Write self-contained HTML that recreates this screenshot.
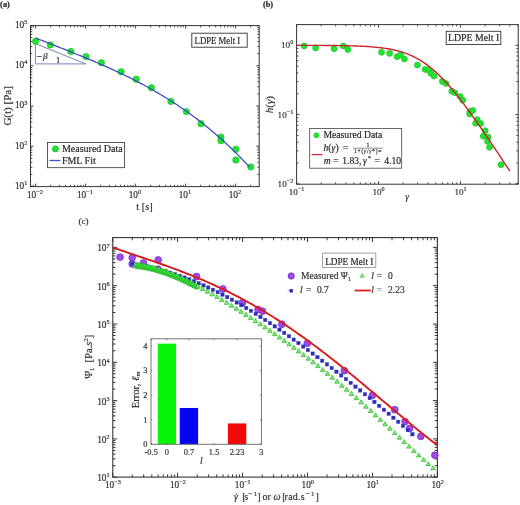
<!DOCTYPE html>
<html><head><meta charset="utf-8"><style>
html,body{margin:0;padding:0;background:#fff;}
svg{display:block;filter:blur(0.3px);}
svg text{font-family:'Liberation Serif', 'DejaVu Serif', serif;stroke:#383838;stroke-width:0.2px;}
</style></head><body>
<svg width="520" height="505" viewBox="0 0 520 505">
<rect width="520" height="505" fill="#fff"/>
<g id="pa">
<rect x="30.5" y="25.6" width="228.7" height="161" fill="none" stroke="#363636" stroke-width="1"/>
<line x1="30.75" y1="186.6" x2="30.75" y2="184.8" stroke="#363636" stroke-width="0.9" />
<line x1="30.75" y1="25.6" x2="30.75" y2="27.4" stroke="#363636" stroke-width="0.9" />
<line x1="33.31" y1="186.6" x2="33.31" y2="184.8" stroke="#363636" stroke-width="0.9" />
<line x1="33.31" y1="25.6" x2="33.31" y2="27.4" stroke="#363636" stroke-width="0.9" />
<line x1="35.6" y1="186.6" x2="35.6" y2="183.6" stroke="#363636" stroke-width="0.9" />
<line x1="35.6" y1="25.6" x2="35.6" y2="28.6" stroke="#363636" stroke-width="0.9" />
<line x1="50.65" y1="186.6" x2="50.65" y2="184.8" stroke="#363636" stroke-width="0.9" />
<line x1="50.65" y1="25.6" x2="50.65" y2="27.4" stroke="#363636" stroke-width="0.9" />
<line x1="59.46" y1="186.6" x2="59.46" y2="184.8" stroke="#363636" stroke-width="0.9" />
<line x1="59.46" y1="25.6" x2="59.46" y2="27.4" stroke="#363636" stroke-width="0.9" />
<line x1="65.7" y1="186.6" x2="65.7" y2="184.8" stroke="#363636" stroke-width="0.9" />
<line x1="65.7" y1="25.6" x2="65.7" y2="27.4" stroke="#363636" stroke-width="0.9" />
<line x1="70.55" y1="186.6" x2="70.55" y2="184.8" stroke="#363636" stroke-width="0.9" />
<line x1="70.55" y1="25.6" x2="70.55" y2="27.4" stroke="#363636" stroke-width="0.9" />
<line x1="74.51" y1="186.6" x2="74.51" y2="184.8" stroke="#363636" stroke-width="0.9" />
<line x1="74.51" y1="25.6" x2="74.51" y2="27.4" stroke="#363636" stroke-width="0.9" />
<line x1="77.85" y1="186.6" x2="77.85" y2="184.8" stroke="#363636" stroke-width="0.9" />
<line x1="77.85" y1="25.6" x2="77.85" y2="27.4" stroke="#363636" stroke-width="0.9" />
<line x1="80.75" y1="186.6" x2="80.75" y2="184.8" stroke="#363636" stroke-width="0.9" />
<line x1="80.75" y1="25.6" x2="80.75" y2="27.4" stroke="#363636" stroke-width="0.9" />
<line x1="83.31" y1="186.6" x2="83.31" y2="184.8" stroke="#363636" stroke-width="0.9" />
<line x1="83.31" y1="25.6" x2="83.31" y2="27.4" stroke="#363636" stroke-width="0.9" />
<line x1="85.6" y1="186.6" x2="85.6" y2="183.6" stroke="#363636" stroke-width="0.9" />
<line x1="85.6" y1="25.6" x2="85.6" y2="28.6" stroke="#363636" stroke-width="0.9" />
<line x1="100.65" y1="186.6" x2="100.65" y2="184.8" stroke="#363636" stroke-width="0.9" />
<line x1="100.65" y1="25.6" x2="100.65" y2="27.4" stroke="#363636" stroke-width="0.9" />
<line x1="109.46" y1="186.6" x2="109.46" y2="184.8" stroke="#363636" stroke-width="0.9" />
<line x1="109.46" y1="25.6" x2="109.46" y2="27.4" stroke="#363636" stroke-width="0.9" />
<line x1="115.7" y1="186.6" x2="115.7" y2="184.8" stroke="#363636" stroke-width="0.9" />
<line x1="115.7" y1="25.6" x2="115.7" y2="27.4" stroke="#363636" stroke-width="0.9" />
<line x1="120.55" y1="186.6" x2="120.55" y2="184.8" stroke="#363636" stroke-width="0.9" />
<line x1="120.55" y1="25.6" x2="120.55" y2="27.4" stroke="#363636" stroke-width="0.9" />
<line x1="124.51" y1="186.6" x2="124.51" y2="184.8" stroke="#363636" stroke-width="0.9" />
<line x1="124.51" y1="25.6" x2="124.51" y2="27.4" stroke="#363636" stroke-width="0.9" />
<line x1="127.85" y1="186.6" x2="127.85" y2="184.8" stroke="#363636" stroke-width="0.9" />
<line x1="127.85" y1="25.6" x2="127.85" y2="27.4" stroke="#363636" stroke-width="0.9" />
<line x1="130.75" y1="186.6" x2="130.75" y2="184.8" stroke="#363636" stroke-width="0.9" />
<line x1="130.75" y1="25.6" x2="130.75" y2="27.4" stroke="#363636" stroke-width="0.9" />
<line x1="133.31" y1="186.6" x2="133.31" y2="184.8" stroke="#363636" stroke-width="0.9" />
<line x1="133.31" y1="25.6" x2="133.31" y2="27.4" stroke="#363636" stroke-width="0.9" />
<line x1="135.6" y1="186.6" x2="135.6" y2="183.6" stroke="#363636" stroke-width="0.9" />
<line x1="135.6" y1="25.6" x2="135.6" y2="28.6" stroke="#363636" stroke-width="0.9" />
<line x1="150.65" y1="186.6" x2="150.65" y2="184.8" stroke="#363636" stroke-width="0.9" />
<line x1="150.65" y1="25.6" x2="150.65" y2="27.4" stroke="#363636" stroke-width="0.9" />
<line x1="159.46" y1="186.6" x2="159.46" y2="184.8" stroke="#363636" stroke-width="0.9" />
<line x1="159.46" y1="25.6" x2="159.46" y2="27.4" stroke="#363636" stroke-width="0.9" />
<line x1="165.7" y1="186.6" x2="165.7" y2="184.8" stroke="#363636" stroke-width="0.9" />
<line x1="165.7" y1="25.6" x2="165.7" y2="27.4" stroke="#363636" stroke-width="0.9" />
<line x1="170.55" y1="186.6" x2="170.55" y2="184.8" stroke="#363636" stroke-width="0.9" />
<line x1="170.55" y1="25.6" x2="170.55" y2="27.4" stroke="#363636" stroke-width="0.9" />
<line x1="174.51" y1="186.6" x2="174.51" y2="184.8" stroke="#363636" stroke-width="0.9" />
<line x1="174.51" y1="25.6" x2="174.51" y2="27.4" stroke="#363636" stroke-width="0.9" />
<line x1="177.85" y1="186.6" x2="177.85" y2="184.8" stroke="#363636" stroke-width="0.9" />
<line x1="177.85" y1="25.6" x2="177.85" y2="27.4" stroke="#363636" stroke-width="0.9" />
<line x1="180.75" y1="186.6" x2="180.75" y2="184.8" stroke="#363636" stroke-width="0.9" />
<line x1="180.75" y1="25.6" x2="180.75" y2="27.4" stroke="#363636" stroke-width="0.9" />
<line x1="183.31" y1="186.6" x2="183.31" y2="184.8" stroke="#363636" stroke-width="0.9" />
<line x1="183.31" y1="25.6" x2="183.31" y2="27.4" stroke="#363636" stroke-width="0.9" />
<line x1="185.6" y1="186.6" x2="185.6" y2="183.6" stroke="#363636" stroke-width="0.9" />
<line x1="185.6" y1="25.6" x2="185.6" y2="28.6" stroke="#363636" stroke-width="0.9" />
<line x1="200.65" y1="186.6" x2="200.65" y2="184.8" stroke="#363636" stroke-width="0.9" />
<line x1="200.65" y1="25.6" x2="200.65" y2="27.4" stroke="#363636" stroke-width="0.9" />
<line x1="209.46" y1="186.6" x2="209.46" y2="184.8" stroke="#363636" stroke-width="0.9" />
<line x1="209.46" y1="25.6" x2="209.46" y2="27.4" stroke="#363636" stroke-width="0.9" />
<line x1="215.7" y1="186.6" x2="215.7" y2="184.8" stroke="#363636" stroke-width="0.9" />
<line x1="215.7" y1="25.6" x2="215.7" y2="27.4" stroke="#363636" stroke-width="0.9" />
<line x1="220.55" y1="186.6" x2="220.55" y2="184.8" stroke="#363636" stroke-width="0.9" />
<line x1="220.55" y1="25.6" x2="220.55" y2="27.4" stroke="#363636" stroke-width="0.9" />
<line x1="224.51" y1="186.6" x2="224.51" y2="184.8" stroke="#363636" stroke-width="0.9" />
<line x1="224.51" y1="25.6" x2="224.51" y2="27.4" stroke="#363636" stroke-width="0.9" />
<line x1="227.85" y1="186.6" x2="227.85" y2="184.8" stroke="#363636" stroke-width="0.9" />
<line x1="227.85" y1="25.6" x2="227.85" y2="27.4" stroke="#363636" stroke-width="0.9" />
<line x1="230.75" y1="186.6" x2="230.75" y2="184.8" stroke="#363636" stroke-width="0.9" />
<line x1="230.75" y1="25.6" x2="230.75" y2="27.4" stroke="#363636" stroke-width="0.9" />
<line x1="233.31" y1="186.6" x2="233.31" y2="184.8" stroke="#363636" stroke-width="0.9" />
<line x1="233.31" y1="25.6" x2="233.31" y2="27.4" stroke="#363636" stroke-width="0.9" />
<line x1="235.6" y1="186.6" x2="235.6" y2="183.6" stroke="#363636" stroke-width="0.9" />
<line x1="235.6" y1="25.6" x2="235.6" y2="28.6" stroke="#363636" stroke-width="0.9" />
<line x1="250.65" y1="186.6" x2="250.65" y2="184.8" stroke="#363636" stroke-width="0.9" />
<line x1="250.65" y1="25.6" x2="250.65" y2="27.4" stroke="#363636" stroke-width="0.9" />
<line x1="30.5" y1="186.5" x2="33.5" y2="186.5" stroke="#363636" stroke-width="0.9" />
<line x1="259.2" y1="186.5" x2="256.2" y2="186.5" stroke="#363636" stroke-width="0.9" />
<line x1="30.5" y1="174.38" x2="32.3" y2="174.38" stroke="#363636" stroke-width="0.9" />
<line x1="259.2" y1="174.38" x2="257.4" y2="174.38" stroke="#363636" stroke-width="0.9" />
<line x1="30.5" y1="167.3" x2="32.3" y2="167.3" stroke="#363636" stroke-width="0.9" />
<line x1="259.2" y1="167.3" x2="257.4" y2="167.3" stroke="#363636" stroke-width="0.9" />
<line x1="30.5" y1="162.27" x2="32.3" y2="162.27" stroke="#363636" stroke-width="0.9" />
<line x1="259.2" y1="162.27" x2="257.4" y2="162.27" stroke="#363636" stroke-width="0.9" />
<line x1="30.5" y1="158.37" x2="32.3" y2="158.37" stroke="#363636" stroke-width="0.9" />
<line x1="259.2" y1="158.37" x2="257.4" y2="158.37" stroke="#363636" stroke-width="0.9" />
<line x1="30.5" y1="155.18" x2="32.3" y2="155.18" stroke="#363636" stroke-width="0.9" />
<line x1="259.2" y1="155.18" x2="257.4" y2="155.18" stroke="#363636" stroke-width="0.9" />
<line x1="30.5" y1="152.48" x2="32.3" y2="152.48" stroke="#363636" stroke-width="0.9" />
<line x1="259.2" y1="152.48" x2="257.4" y2="152.48" stroke="#363636" stroke-width="0.9" />
<line x1="30.5" y1="150.15" x2="32.3" y2="150.15" stroke="#363636" stroke-width="0.9" />
<line x1="259.2" y1="150.15" x2="257.4" y2="150.15" stroke="#363636" stroke-width="0.9" />
<line x1="30.5" y1="148.09" x2="32.3" y2="148.09" stroke="#363636" stroke-width="0.9" />
<line x1="259.2" y1="148.09" x2="257.4" y2="148.09" stroke="#363636" stroke-width="0.9" />
<line x1="30.5" y1="146.25" x2="33.5" y2="146.25" stroke="#363636" stroke-width="0.9" />
<line x1="259.2" y1="146.25" x2="256.2" y2="146.25" stroke="#363636" stroke-width="0.9" />
<line x1="30.5" y1="134.13" x2="32.3" y2="134.13" stroke="#363636" stroke-width="0.9" />
<line x1="259.2" y1="134.13" x2="257.4" y2="134.13" stroke="#363636" stroke-width="0.9" />
<line x1="30.5" y1="127.05" x2="32.3" y2="127.05" stroke="#363636" stroke-width="0.9" />
<line x1="259.2" y1="127.05" x2="257.4" y2="127.05" stroke="#363636" stroke-width="0.9" />
<line x1="30.5" y1="122.02" x2="32.3" y2="122.02" stroke="#363636" stroke-width="0.9" />
<line x1="259.2" y1="122.02" x2="257.4" y2="122.02" stroke="#363636" stroke-width="0.9" />
<line x1="30.5" y1="118.12" x2="32.3" y2="118.12" stroke="#363636" stroke-width="0.9" />
<line x1="259.2" y1="118.12" x2="257.4" y2="118.12" stroke="#363636" stroke-width="0.9" />
<line x1="30.5" y1="114.93" x2="32.3" y2="114.93" stroke="#363636" stroke-width="0.9" />
<line x1="259.2" y1="114.93" x2="257.4" y2="114.93" stroke="#363636" stroke-width="0.9" />
<line x1="30.5" y1="112.23" x2="32.3" y2="112.23" stroke="#363636" stroke-width="0.9" />
<line x1="259.2" y1="112.23" x2="257.4" y2="112.23" stroke="#363636" stroke-width="0.9" />
<line x1="30.5" y1="109.9" x2="32.3" y2="109.9" stroke="#363636" stroke-width="0.9" />
<line x1="259.2" y1="109.9" x2="257.4" y2="109.9" stroke="#363636" stroke-width="0.9" />
<line x1="30.5" y1="107.84" x2="32.3" y2="107.84" stroke="#363636" stroke-width="0.9" />
<line x1="259.2" y1="107.84" x2="257.4" y2="107.84" stroke="#363636" stroke-width="0.9" />
<line x1="30.5" y1="106" x2="33.5" y2="106" stroke="#363636" stroke-width="0.9" />
<line x1="259.2" y1="106" x2="256.2" y2="106" stroke="#363636" stroke-width="0.9" />
<line x1="30.5" y1="93.88" x2="32.3" y2="93.88" stroke="#363636" stroke-width="0.9" />
<line x1="259.2" y1="93.88" x2="257.4" y2="93.88" stroke="#363636" stroke-width="0.9" />
<line x1="30.5" y1="86.8" x2="32.3" y2="86.8" stroke="#363636" stroke-width="0.9" />
<line x1="259.2" y1="86.8" x2="257.4" y2="86.8" stroke="#363636" stroke-width="0.9" />
<line x1="30.5" y1="81.77" x2="32.3" y2="81.77" stroke="#363636" stroke-width="0.9" />
<line x1="259.2" y1="81.77" x2="257.4" y2="81.77" stroke="#363636" stroke-width="0.9" />
<line x1="30.5" y1="77.87" x2="32.3" y2="77.87" stroke="#363636" stroke-width="0.9" />
<line x1="259.2" y1="77.87" x2="257.4" y2="77.87" stroke="#363636" stroke-width="0.9" />
<line x1="30.5" y1="74.68" x2="32.3" y2="74.68" stroke="#363636" stroke-width="0.9" />
<line x1="259.2" y1="74.68" x2="257.4" y2="74.68" stroke="#363636" stroke-width="0.9" />
<line x1="30.5" y1="71.98" x2="32.3" y2="71.98" stroke="#363636" stroke-width="0.9" />
<line x1="259.2" y1="71.98" x2="257.4" y2="71.98" stroke="#363636" stroke-width="0.9" />
<line x1="30.5" y1="69.65" x2="32.3" y2="69.65" stroke="#363636" stroke-width="0.9" />
<line x1="259.2" y1="69.65" x2="257.4" y2="69.65" stroke="#363636" stroke-width="0.9" />
<line x1="30.5" y1="67.59" x2="32.3" y2="67.59" stroke="#363636" stroke-width="0.9" />
<line x1="259.2" y1="67.59" x2="257.4" y2="67.59" stroke="#363636" stroke-width="0.9" />
<line x1="30.5" y1="65.75" x2="33.5" y2="65.75" stroke="#363636" stroke-width="0.9" />
<line x1="259.2" y1="65.75" x2="256.2" y2="65.75" stroke="#363636" stroke-width="0.9" />
<line x1="30.5" y1="53.63" x2="32.3" y2="53.63" stroke="#363636" stroke-width="0.9" />
<line x1="259.2" y1="53.63" x2="257.4" y2="53.63" stroke="#363636" stroke-width="0.9" />
<line x1="30.5" y1="46.55" x2="32.3" y2="46.55" stroke="#363636" stroke-width="0.9" />
<line x1="259.2" y1="46.55" x2="257.4" y2="46.55" stroke="#363636" stroke-width="0.9" />
<line x1="30.5" y1="41.52" x2="32.3" y2="41.52" stroke="#363636" stroke-width="0.9" />
<line x1="259.2" y1="41.52" x2="257.4" y2="41.52" stroke="#363636" stroke-width="0.9" />
<line x1="30.5" y1="37.62" x2="32.3" y2="37.62" stroke="#363636" stroke-width="0.9" />
<line x1="259.2" y1="37.62" x2="257.4" y2="37.62" stroke="#363636" stroke-width="0.9" />
<line x1="30.5" y1="34.43" x2="32.3" y2="34.43" stroke="#363636" stroke-width="0.9" />
<line x1="259.2" y1="34.43" x2="257.4" y2="34.43" stroke="#363636" stroke-width="0.9" />
<line x1="30.5" y1="31.73" x2="32.3" y2="31.73" stroke="#363636" stroke-width="0.9" />
<line x1="259.2" y1="31.73" x2="257.4" y2="31.73" stroke="#363636" stroke-width="0.9" />
<line x1="30.5" y1="29.4" x2="32.3" y2="29.4" stroke="#363636" stroke-width="0.9" />
<line x1="259.2" y1="29.4" x2="257.4" y2="29.4" stroke="#363636" stroke-width="0.9" />
<line x1="30.5" y1="27.34" x2="32.3" y2="27.34" stroke="#363636" stroke-width="0.9" />
<line x1="259.2" y1="27.34" x2="257.4" y2="27.34" stroke="#363636" stroke-width="0.9" />
<line x1="30.5" y1="25.5" x2="33.5" y2="25.5" stroke="#363636" stroke-width="0.9" />
<line x1="259.2" y1="25.5" x2="256.2" y2="25.5" stroke="#363636" stroke-width="0.9" />
<text x="34.9" y="198.1" font-size="9.3" text-anchor="middle" fill="#333">10<tspan font-size="6.3" dy="-4">−2</tspan></text>
<text x="84.9" y="198.1" font-size="9.3" text-anchor="middle" fill="#333">10<tspan font-size="6.3" dy="-4">−1</tspan></text>
<text x="134.9" y="198.1" font-size="9.3" text-anchor="middle" fill="#333">10<tspan font-size="6.3" dy="-4">0</tspan></text>
<text x="184.9" y="198.1" font-size="9.3" text-anchor="middle" fill="#333">10<tspan font-size="6.3" dy="-4">1</tspan></text>
<text x="234.9" y="198.1" font-size="9.3" text-anchor="middle" fill="#333">10<tspan font-size="6.3" dy="-4">2</tspan></text>
<text x="27.4" y="188.9" font-size="9.3" text-anchor="end" fill="#333">10<tspan font-size="6.3" dy="-3.8">1</tspan></text>
<text x="27.4" y="148.65" font-size="9.3" text-anchor="end" fill="#333">10<tspan font-size="6.3" dy="-3.8">2</tspan></text>
<text x="27.4" y="108.4" font-size="9.3" text-anchor="end" fill="#333">10<tspan font-size="6.3" dy="-3.8">3</tspan></text>
<text x="27.4" y="68.15" font-size="9.3" text-anchor="end" fill="#333">10<tspan font-size="6.3" dy="-3.8">4</tspan></text>
<text x="27.4" y="27.9" font-size="9.3" text-anchor="end" fill="#333">10<tspan font-size="6.3" dy="-3.8">5</tspan></text>
</g>
<polyline points="35.4,43.6 35.4,63.9 85.8,63.9 35.4,43.6" fill="none" stroke="#6877b8" stroke-width="0.9"/>
<text x="36.5" y="60.2" font-size="10" fill="#333">−</text>
<text x="43.0" y="58.8" font-size="9.2" fill="#333" font-style="italic">β</text>
<text x="55.9" y="63.2" font-size="8.6" text-anchor="start" fill="#333" >1</text>
<circle cx="35.6" cy="41.3" r="3.2" fill="#1fe52f" stroke="#20b82a" stroke-width="0.6"/>
<circle cx="50.4" cy="44.9" r="3.2" fill="#1fe52f" stroke="#20b82a" stroke-width="0.6"/>
<circle cx="70.8" cy="51.4" r="3.2" fill="#1fe52f" stroke="#20b82a" stroke-width="0.6"/>
<circle cx="86" cy="56.6" r="3.2" fill="#1fe52f" stroke="#20b82a" stroke-width="0.6"/>
<circle cx="101.4" cy="62.8" r="3.2" fill="#1fe52f" stroke="#20b82a" stroke-width="0.6"/>
<circle cx="121.1" cy="71.8" r="3.2" fill="#1fe52f" stroke="#20b82a" stroke-width="0.6"/>
<circle cx="136.2" cy="79.3" r="3.2" fill="#1fe52f" stroke="#20b82a" stroke-width="0.6"/>
<circle cx="151.4" cy="87.8" r="3.2" fill="#1fe52f" stroke="#20b82a" stroke-width="0.6"/>
<circle cx="170.9" cy="101.4" r="3.2" fill="#1fe52f" stroke="#20b82a" stroke-width="0.6"/>
<circle cx="186.3" cy="111.6" r="3.2" fill="#1fe52f" stroke="#20b82a" stroke-width="0.6"/>
<circle cx="201" cy="123.7" r="3.2" fill="#1fe52f" stroke="#20b82a" stroke-width="0.6"/>
<circle cx="220.9" cy="137.1" r="3.2" fill="#1fe52f" stroke="#20b82a" stroke-width="0.6"/>
<circle cx="220.9" cy="140.8" r="3.2" fill="#1fe52f" stroke="#20b82a" stroke-width="0.6"/>
<circle cx="235.8" cy="149.3" r="3.2" fill="#1fe52f" stroke="#20b82a" stroke-width="0.6"/>
<circle cx="235.8" cy="160" r="3.2" fill="#1fe52f" stroke="#20b82a" stroke-width="0.6"/>
<circle cx="250.8" cy="167" r="3.2" fill="#1fe52f" stroke="#20b82a" stroke-width="0.6"/>
<polyline points="35.3,37.9 37.1,38.6 38.9,39.31 40.71,40.01 42.51,40.72 44.31,41.42 46.11,42.13 47.91,42.83 49.71,43.54 51.52,44.24 53.32,44.95 55.12,45.65 56.92,46.36 58.72,47.07 60.52,47.78 62.33,48.49 64.13,49.2 65.93,49.92 67.73,50.63 69.53,51.35 71.33,52.07 73.14,52.79 74.94,53.52 76.74,54.25 78.54,54.98 80.34,55.71 82.14,56.45 83.95,57.19 85.75,57.93 87.55,58.68 89.35,59.43 91.15,60.19 92.95,60.95 94.76,61.71 96.56,62.48 98.36,63.26 100.16,64.04 101.96,64.82 103.76,65.62 105.57,66.41 107.37,67.21 109.17,68.02 110.97,68.84 112.77,69.66 114.57,70.49 116.38,71.32 118.18,72.16 119.98,73.01 121.78,73.87 123.58,74.73 125.38,75.61 127.19,76.49 128.99,77.37 130.79,78.27 132.59,79.18 134.39,80.09 136.19,81.01 138,81.95 139.8,82.89 141.6,83.84 143.4,84.8 145.2,85.78 147,86.76 148.81,87.75 150.61,88.75 152.41,89.77 154.21,90.8 156.01,91.83 157.81,92.88 159.62,93.94 161.42,95.02 163.22,96.1 165.02,97.2 166.82,98.31 168.62,99.44 170.43,100.57 172.23,101.72 174.03,102.89 175.83,104.07 177.63,105.26 179.43,106.46 181.24,107.69 183.04,108.92 184.84,110.17 186.64,111.44 188.44,112.72 190.24,114.02 192.05,115.33 193.85,116.66 195.65,118.01 197.45,119.37 199.25,120.75 201.05,122.15 202.86,123.56 204.66,125 206.46,126.45 208.26,127.92 210.06,129.4 211.86,130.91 213.67,132.43 215.47,133.98 217.27,135.54 219.07,137.13 220.87,138.73 222.67,140.35 224.48,142 226.28,143.66 228.08,145.35 229.88,147.05 231.68,148.78 233.48,150.53 235.29,152.3 237.09,154.1 238.89,155.91 240.69,157.75 242.49,159.62 244.29,161.5 246.1,163.41 247.9,165.35 249.7,167.3" fill="none" stroke="#3a4fc2" stroke-width="1.3" stroke-linejoin="round" stroke-linecap="butt" />
<rect x="47.4" y="142.4" width="77.2" height="25.3" fill="#fff" stroke="#333" stroke-width="0.8"/>
<circle cx="55.4" cy="148.9" r="3.1" fill="#1fe52f" stroke="#20b82a" stroke-width="0.6"/>
<text x="61.9" y="151.6" font-size="10" text-anchor="start" fill="#222" >Measured Data</text>
<line x1="49.4" y1="160.5" x2="60.4" y2="160.5" stroke="#3a52c4" stroke-width="1.3" />
<text x="61.9" y="163.5" font-size="10" text-anchor="start" fill="#222" >FML Fit</text>
<rect x="191.8" y="33.2" width="55.4" height="14" fill="#fff" stroke="#333" stroke-width="0.9"/>
<text x="194.6" y="43.6" font-size="9.6" text-anchor="start" fill="#222" textLength="45.6" lengthAdjust="spacingAndGlyphs">LDPE Melt I</text>
<text x="0" y="0" font-size="11" fill="#333" transform="translate(11.0,105.9) rotate(-90)" text-anchor="middle">G(t) [Pa]</text>
<text x="144.5" y="210.3" font-size="10.4" fill="#333" text-anchor="middle">t [<tspan font-style="italic">s</tspan>]</text>
<text x="0.1" y="7.1" font-size="8.4" font-weight="bold" fill="#222">(a)</text>
<rect x="296.6" y="24.6" width="221.6" height="159.6" fill="none" stroke="#363636" stroke-width="1"/>
<line x1="296.5" y1="184.2" x2="296.5" y2="181.2" stroke="#363636" stroke-width="0.9" />
<line x1="296.5" y1="24.6" x2="296.5" y2="27.6" stroke="#363636" stroke-width="0.9" />
<line x1="321.18" y1="184.2" x2="321.18" y2="182.4" stroke="#363636" stroke-width="0.9" />
<line x1="321.18" y1="24.6" x2="321.18" y2="26.4" stroke="#363636" stroke-width="0.9" />
<line x1="335.62" y1="184.2" x2="335.62" y2="182.4" stroke="#363636" stroke-width="0.9" />
<line x1="335.62" y1="24.6" x2="335.62" y2="26.4" stroke="#363636" stroke-width="0.9" />
<line x1="345.87" y1="184.2" x2="345.87" y2="182.4" stroke="#363636" stroke-width="0.9" />
<line x1="345.87" y1="24.6" x2="345.87" y2="26.4" stroke="#363636" stroke-width="0.9" />
<line x1="353.82" y1="184.2" x2="353.82" y2="182.4" stroke="#363636" stroke-width="0.9" />
<line x1="353.82" y1="24.6" x2="353.82" y2="26.4" stroke="#363636" stroke-width="0.9" />
<line x1="360.31" y1="184.2" x2="360.31" y2="182.4" stroke="#363636" stroke-width="0.9" />
<line x1="360.31" y1="24.6" x2="360.31" y2="26.4" stroke="#363636" stroke-width="0.9" />
<line x1="365.8" y1="184.2" x2="365.8" y2="182.4" stroke="#363636" stroke-width="0.9" />
<line x1="365.8" y1="24.6" x2="365.8" y2="26.4" stroke="#363636" stroke-width="0.9" />
<line x1="370.55" y1="184.2" x2="370.55" y2="182.4" stroke="#363636" stroke-width="0.9" />
<line x1="370.55" y1="24.6" x2="370.55" y2="26.4" stroke="#363636" stroke-width="0.9" />
<line x1="374.75" y1="184.2" x2="374.75" y2="182.4" stroke="#363636" stroke-width="0.9" />
<line x1="374.75" y1="24.6" x2="374.75" y2="26.4" stroke="#363636" stroke-width="0.9" />
<line x1="378.5" y1="184.2" x2="378.5" y2="181.2" stroke="#363636" stroke-width="0.9" />
<line x1="378.5" y1="24.6" x2="378.5" y2="27.6" stroke="#363636" stroke-width="0.9" />
<line x1="403.18" y1="184.2" x2="403.18" y2="182.4" stroke="#363636" stroke-width="0.9" />
<line x1="403.18" y1="24.6" x2="403.18" y2="26.4" stroke="#363636" stroke-width="0.9" />
<line x1="417.62" y1="184.2" x2="417.62" y2="182.4" stroke="#363636" stroke-width="0.9" />
<line x1="417.62" y1="24.6" x2="417.62" y2="26.4" stroke="#363636" stroke-width="0.9" />
<line x1="427.87" y1="184.2" x2="427.87" y2="182.4" stroke="#363636" stroke-width="0.9" />
<line x1="427.87" y1="24.6" x2="427.87" y2="26.4" stroke="#363636" stroke-width="0.9" />
<line x1="435.82" y1="184.2" x2="435.82" y2="182.4" stroke="#363636" stroke-width="0.9" />
<line x1="435.82" y1="24.6" x2="435.82" y2="26.4" stroke="#363636" stroke-width="0.9" />
<line x1="442.31" y1="184.2" x2="442.31" y2="182.4" stroke="#363636" stroke-width="0.9" />
<line x1="442.31" y1="24.6" x2="442.31" y2="26.4" stroke="#363636" stroke-width="0.9" />
<line x1="447.8" y1="184.2" x2="447.8" y2="182.4" stroke="#363636" stroke-width="0.9" />
<line x1="447.8" y1="24.6" x2="447.8" y2="26.4" stroke="#363636" stroke-width="0.9" />
<line x1="452.55" y1="184.2" x2="452.55" y2="182.4" stroke="#363636" stroke-width="0.9" />
<line x1="452.55" y1="24.6" x2="452.55" y2="26.4" stroke="#363636" stroke-width="0.9" />
<line x1="456.75" y1="184.2" x2="456.75" y2="182.4" stroke="#363636" stroke-width="0.9" />
<line x1="456.75" y1="24.6" x2="456.75" y2="26.4" stroke="#363636" stroke-width="0.9" />
<line x1="460.5" y1="184.2" x2="460.5" y2="181.2" stroke="#363636" stroke-width="0.9" />
<line x1="460.5" y1="24.6" x2="460.5" y2="27.6" stroke="#363636" stroke-width="0.9" />
<line x1="485.18" y1="184.2" x2="485.18" y2="182.4" stroke="#363636" stroke-width="0.9" />
<line x1="485.18" y1="24.6" x2="485.18" y2="26.4" stroke="#363636" stroke-width="0.9" />
<line x1="499.62" y1="184.2" x2="499.62" y2="182.4" stroke="#363636" stroke-width="0.9" />
<line x1="499.62" y1="24.6" x2="499.62" y2="26.4" stroke="#363636" stroke-width="0.9" />
<line x1="509.87" y1="184.2" x2="509.87" y2="182.4" stroke="#363636" stroke-width="0.9" />
<line x1="509.87" y1="24.6" x2="509.87" y2="26.4" stroke="#363636" stroke-width="0.9" />
<line x1="517.82" y1="184.2" x2="517.82" y2="182.4" stroke="#363636" stroke-width="0.9" />
<line x1="517.82" y1="24.6" x2="517.82" y2="26.4" stroke="#363636" stroke-width="0.9" />
<line x1="296.6" y1="183.9" x2="299.6" y2="183.9" stroke="#363636" stroke-width="0.9" />
<line x1="518.2" y1="183.9" x2="515.2" y2="183.9" stroke="#363636" stroke-width="0.9" />
<line x1="296.6" y1="163.04" x2="298.4" y2="163.04" stroke="#363636" stroke-width="0.9" />
<line x1="518.2" y1="163.04" x2="516.4" y2="163.04" stroke="#363636" stroke-width="0.9" />
<line x1="296.6" y1="150.84" x2="298.4" y2="150.84" stroke="#363636" stroke-width="0.9" />
<line x1="518.2" y1="150.84" x2="516.4" y2="150.84" stroke="#363636" stroke-width="0.9" />
<line x1="296.6" y1="142.18" x2="298.4" y2="142.18" stroke="#363636" stroke-width="0.9" />
<line x1="518.2" y1="142.18" x2="516.4" y2="142.18" stroke="#363636" stroke-width="0.9" />
<line x1="296.6" y1="135.46" x2="298.4" y2="135.46" stroke="#363636" stroke-width="0.9" />
<line x1="518.2" y1="135.46" x2="516.4" y2="135.46" stroke="#363636" stroke-width="0.9" />
<line x1="296.6" y1="129.97" x2="298.4" y2="129.97" stroke="#363636" stroke-width="0.9" />
<line x1="518.2" y1="129.97" x2="516.4" y2="129.97" stroke="#363636" stroke-width="0.9" />
<line x1="296.6" y1="125.33" x2="298.4" y2="125.33" stroke="#363636" stroke-width="0.9" />
<line x1="518.2" y1="125.33" x2="516.4" y2="125.33" stroke="#363636" stroke-width="0.9" />
<line x1="296.6" y1="121.32" x2="298.4" y2="121.32" stroke="#363636" stroke-width="0.9" />
<line x1="518.2" y1="121.32" x2="516.4" y2="121.32" stroke="#363636" stroke-width="0.9" />
<line x1="296.6" y1="117.77" x2="298.4" y2="117.77" stroke="#363636" stroke-width="0.9" />
<line x1="518.2" y1="117.77" x2="516.4" y2="117.77" stroke="#363636" stroke-width="0.9" />
<line x1="296.6" y1="114.6" x2="299.6" y2="114.6" stroke="#363636" stroke-width="0.9" />
<line x1="518.2" y1="114.6" x2="515.2" y2="114.6" stroke="#363636" stroke-width="0.9" />
<line x1="296.6" y1="93.74" x2="298.4" y2="93.74" stroke="#363636" stroke-width="0.9" />
<line x1="518.2" y1="93.74" x2="516.4" y2="93.74" stroke="#363636" stroke-width="0.9" />
<line x1="296.6" y1="81.54" x2="298.4" y2="81.54" stroke="#363636" stroke-width="0.9" />
<line x1="518.2" y1="81.54" x2="516.4" y2="81.54" stroke="#363636" stroke-width="0.9" />
<line x1="296.6" y1="72.88" x2="298.4" y2="72.88" stroke="#363636" stroke-width="0.9" />
<line x1="518.2" y1="72.88" x2="516.4" y2="72.88" stroke="#363636" stroke-width="0.9" />
<line x1="296.6" y1="66.16" x2="298.4" y2="66.16" stroke="#363636" stroke-width="0.9" />
<line x1="518.2" y1="66.16" x2="516.4" y2="66.16" stroke="#363636" stroke-width="0.9" />
<line x1="296.6" y1="60.67" x2="298.4" y2="60.67" stroke="#363636" stroke-width="0.9" />
<line x1="518.2" y1="60.67" x2="516.4" y2="60.67" stroke="#363636" stroke-width="0.9" />
<line x1="296.6" y1="56.03" x2="298.4" y2="56.03" stroke="#363636" stroke-width="0.9" />
<line x1="518.2" y1="56.03" x2="516.4" y2="56.03" stroke="#363636" stroke-width="0.9" />
<line x1="296.6" y1="52.02" x2="298.4" y2="52.02" stroke="#363636" stroke-width="0.9" />
<line x1="518.2" y1="52.02" x2="516.4" y2="52.02" stroke="#363636" stroke-width="0.9" />
<line x1="296.6" y1="48.47" x2="298.4" y2="48.47" stroke="#363636" stroke-width="0.9" />
<line x1="518.2" y1="48.47" x2="516.4" y2="48.47" stroke="#363636" stroke-width="0.9" />
<line x1="296.6" y1="45.3" x2="299.6" y2="45.3" stroke="#363636" stroke-width="0.9" />
<line x1="518.2" y1="45.3" x2="515.2" y2="45.3" stroke="#363636" stroke-width="0.9" />
<text x="296.5" y="195" font-size="9.1" text-anchor="middle" fill="#333">10<tspan font-size="6.1" dy="-4">−1</tspan></text>
<text x="378.5" y="195" font-size="9.1" text-anchor="middle" fill="#333">10<tspan font-size="6.1" dy="-4">0</tspan></text>
<text x="460.5" y="195" font-size="9.1" text-anchor="middle" fill="#333">10<tspan font-size="6.1" dy="-4">1</tspan></text>
<text x="293.2" y="186.8" font-size="9.1" text-anchor="end" fill="#333">10<tspan font-size="6.1" dy="-3.8">−2</tspan></text>
<text x="293.2" y="117.5" font-size="9.1" text-anchor="end" fill="#333">10<tspan font-size="6.1" dy="-3.8">−1</tspan></text>
<text x="293.2" y="48.2" font-size="9.1" text-anchor="end" fill="#333">10<tspan font-size="6.1" dy="-3.8">0</tspan></text>
<circle cx="304.1" cy="46" r="3" fill="#1fe52f" stroke="#20b82a" stroke-width="0.6"/>
<circle cx="315.6" cy="47.9" r="3" fill="#1fe52f" stroke="#20b82a" stroke-width="0.6"/>
<circle cx="334.1" cy="48.8" r="3" fill="#1fe52f" stroke="#20b82a" stroke-width="0.6"/>
<circle cx="343.3" cy="46" r="3" fill="#1fe52f" stroke="#20b82a" stroke-width="0.6"/>
<circle cx="347.9" cy="49.6" r="3" fill="#1fe52f" stroke="#20b82a" stroke-width="0.6"/>
<circle cx="381.5" cy="52.3" r="3" fill="#1fe52f" stroke="#20b82a" stroke-width="0.6"/>
<circle cx="389.6" cy="53.4" r="3" fill="#1fe52f" stroke="#20b82a" stroke-width="0.6"/>
<circle cx="397.1" cy="56.7" r="3" fill="#1fe52f" stroke="#20b82a" stroke-width="0.6"/>
<circle cx="400.6" cy="55" r="3" fill="#1fe52f" stroke="#20b82a" stroke-width="0.6"/>
<circle cx="404.4" cy="59" r="3" fill="#1fe52f" stroke="#20b82a" stroke-width="0.6"/>
<circle cx="417.4" cy="65.1" r="3" fill="#1fe52f" stroke="#20b82a" stroke-width="0.6"/>
<circle cx="425.1" cy="69.4" r="3" fill="#1fe52f" stroke="#20b82a" stroke-width="0.6"/>
<circle cx="428.7" cy="69.9" r="3" fill="#1fe52f" stroke="#20b82a" stroke-width="0.6"/>
<circle cx="431" cy="73.4" r="3" fill="#1fe52f" stroke="#20b82a" stroke-width="0.6"/>
<circle cx="434" cy="76.1" r="3" fill="#1fe52f" stroke="#20b82a" stroke-width="0.6"/>
<circle cx="442.3" cy="81.4" r="3" fill="#1fe52f" stroke="#20b82a" stroke-width="0.6"/>
<circle cx="445.9" cy="83.5" r="3" fill="#1fe52f" stroke="#20b82a" stroke-width="0.6"/>
<circle cx="451.8" cy="91.2" r="3" fill="#1fe52f" stroke="#20b82a" stroke-width="0.6"/>
<circle cx="454.8" cy="92.8" r="3" fill="#1fe52f" stroke="#20b82a" stroke-width="0.6"/>
<circle cx="460.2" cy="96.6" r="3" fill="#1fe52f" stroke="#20b82a" stroke-width="0.6"/>
<circle cx="462.7" cy="100.3" r="3" fill="#1fe52f" stroke="#20b82a" stroke-width="0.6"/>
<circle cx="469.8" cy="111.5" r="3" fill="#1fe52f" stroke="#20b82a" stroke-width="0.6"/>
<circle cx="472.8" cy="110.5" r="3" fill="#1fe52f" stroke="#20b82a" stroke-width="0.6"/>
<circle cx="469.6" cy="114" r="3" fill="#1fe52f" stroke="#20b82a" stroke-width="0.6"/>
<circle cx="477.2" cy="119.6" r="3" fill="#1fe52f" stroke="#20b82a" stroke-width="0.6"/>
<circle cx="475.6" cy="123.2" r="3" fill="#1fe52f" stroke="#20b82a" stroke-width="0.6"/>
<circle cx="480.7" cy="123.5" r="3" fill="#1fe52f" stroke="#20b82a" stroke-width="0.6"/>
<circle cx="485.1" cy="130.7" r="3" fill="#1fe52f" stroke="#20b82a" stroke-width="0.6"/>
<circle cx="483.2" cy="136.2" r="3" fill="#1fe52f" stroke="#20b82a" stroke-width="0.6"/>
<circle cx="488" cy="137" r="3" fill="#1fe52f" stroke="#20b82a" stroke-width="0.6"/>
<circle cx="487.5" cy="141.3" r="3" fill="#1fe52f" stroke="#20b82a" stroke-width="0.6"/>
<circle cx="489.5" cy="147.3" r="3" fill="#1fe52f" stroke="#20b82a" stroke-width="0.6"/>
<circle cx="501" cy="164.7" r="3" fill="#1fe52f" stroke="#20b82a" stroke-width="0.6"/>
<polyline points="296.5,45.33 297.84,45.34 299.18,45.34 300.53,45.34 301.87,45.34 303.21,45.35 304.55,45.35 305.89,45.35 307.24,45.36 308.58,45.36 309.92,45.37 311.26,45.37 312.6,45.38 313.95,45.38 315.29,45.39 316.63,45.39 317.97,45.4 319.31,45.41 320.65,45.42 322,45.42 323.34,45.43 324.68,45.44 326.02,45.45 327.36,45.46 328.71,45.48 330.05,45.49 331.39,45.5 332.73,45.52 334.07,45.53 335.42,45.55 336.76,45.57 338.1,45.58 339.44,45.6 340.78,45.63 342.13,45.65 343.47,45.67 344.81,45.7 346.15,45.73 347.49,45.76 348.84,45.79 350.18,45.83 351.52,45.86 352.86,45.9 354.2,45.95 355.55,45.99 356.89,46.04 358.23,46.09 359.57,46.15 360.91,46.21 362.26,46.27 363.6,46.34 364.94,46.41 366.28,46.49 367.62,46.57 368.96,46.66 370.31,46.76 371.65,46.86 372.99,46.97 374.33,47.08 375.67,47.21 377.02,47.34 378.36,47.48 379.7,47.63 381.04,47.79 382.38,47.96 383.73,48.14 385.07,48.33 386.41,48.54 387.75,48.75 389.09,48.99 390.44,49.23 391.78,49.5 393.12,49.77 394.46,50.07 395.8,50.38 397.15,50.71 398.49,51.07 399.83,51.44 401.17,51.83 402.51,52.25 403.86,52.69 405.2,53.15 406.54,53.64 407.88,54.16 409.22,54.7 410.57,55.27 411.91,55.87 413.25,56.5 414.59,57.16 415.93,57.85 417.27,58.58 418.62,59.34 419.96,60.13 421.3,60.95 422.64,61.81 423.98,62.7 425.33,63.63 426.67,64.6 428.01,65.6 429.35,66.63 430.69,67.7 432.04,68.81 433.38,69.95 434.72,71.13 436.06,72.35 437.4,73.59 438.75,74.87 440.09,76.19 441.43,77.54 442.77,78.92 444.11,80.33 445.46,81.77 446.8,83.25 448.14,84.75 449.48,86.28 450.82,87.83 452.17,89.42 453.51,91.03 454.85,92.66 456.19,94.32 457.53,96 458.88,97.7 460.22,99.42 461.56,101.16 462.9,102.92 464.24,104.7 465.58,106.49 466.93,108.3 468.27,110.13 469.61,111.97 470.95,113.83 472.29,115.7 473.64,117.58 474.98,119.47 476.32,121.38 477.66,123.29 479,125.22 480.35,127.15 481.69,129.09 483.03,131.05 484.37,133 485.71,134.97 487.06,136.94 488.4,138.92 489.74,140.91 491.08,142.9 492.42,144.9 493.77,146.9 495.11,148.91 496.45,150.92 497.79,152.93 499.13,154.95 500.48,156.98 501.82,159 503.16,161.03 504.5,163.06 505.84,165.1 507.19,167.14 508.53,169.18 509.87,171.22" fill="none" stroke="#c8262e" stroke-width="1.4" stroke-linejoin="round" stroke-linecap="butt" />
<rect x="309.7" y="128.4" width="92" height="39.8" fill="#fff" stroke="#444" stroke-width="0.8"/>
<circle cx="316.4" cy="135.3" r="2.6" fill="#1fe52f" stroke="#20b82a" stroke-width="0.5"/>
<text x="323.4" y="138.1" font-size="9.7" text-anchor="start" fill="#222" >Measured Data</text>
<line x1="311.7" y1="154.6" x2="322.4" y2="154.6" stroke="#d42a3a" stroke-width="1.3" />
<text x="323.5" y="150.8" font-size="9.7" fill="#222"><tspan font-style="italic">h</tspan>(<tspan font-style="italic">γ</tspan>)</text>
<text x="342.7" y="150.8" font-size="9.7" fill="#222">=</text>
<line x1="353.1" y1="148.2" x2="382.9" y2="148.2" stroke="#333" stroke-width="0.55" />
<text x="368" y="146.9" font-size="5.8" text-anchor="middle" fill="#222" >1</text>
<text x="354" y="153.1" font-size="5.4" fill="#333" style="letter-spacing:0.82px">1+(<tspan font-style="italic">γ</tspan>/<tspan font-style="italic">γ</tspan>*)<tspan font-style="italic" dy="-1.5" font-size="4">m</tspan></text>
<text x="323.8" y="163.7" font-size="9.6" fill="#222" font-style="italic">m</text>
<text x="333.2" y="163.7" font-size="9.6" fill="#222">=</text>
<text x="342.2" y="163.7" font-size="9.6" fill="#222">1.83,</text>
<text x="363.0" y="163.7" font-size="9.6" fill="#222" font-style="italic">γ</text>
<text x="368.0" y="160.0" font-size="6.2" fill="#222">*</text>
<text x="374.4" y="163.7" font-size="9.6" fill="#222">=</text>
<text x="384.2" y="163.7" font-size="9.6" fill="#222">4.10</text>
<rect x="446.2" y="31.3" width="54.6" height="13.2" fill="#fff" stroke="#333" stroke-width="0.9"/>
<text x="448" y="40.8" font-size="9.6" text-anchor="start" fill="#222" textLength="51.2" lengthAdjust="spacingAndGlyphs">LDPE Melt I</text>
<text x="0" y="0" font-size="11" fill="#333" transform="translate(273.1,104.6) rotate(-90)" text-anchor="middle"><tspan font-style="italic">h</tspan>(<tspan font-style="italic">γ</tspan>)</text>
<text x="407" y="199.5" font-size="9.4" fill="#333" text-anchor="middle" font-style="italic">γ</text>
<text x="262.9" y="6.5" font-size="8.4" font-weight="bold" fill="#222">(b)</text>
<rect x="112.8" y="237.6" width="324.6" height="239.5" fill="none" stroke="#363636" stroke-width="1.1"/>
<line x1="112.7" y1="477.1" x2="112.7" y2="472.7" stroke="#363636" stroke-width="1.0" />
<line x1="112.7" y1="237.6" x2="112.7" y2="242" stroke="#363636" stroke-width="1.0" />
<line x1="132.25" y1="477.1" x2="132.25" y2="474.4" stroke="#363636" stroke-width="1.0" />
<line x1="132.25" y1="237.6" x2="132.25" y2="240.3" stroke="#363636" stroke-width="1.0" />
<line x1="143.68" y1="477.1" x2="143.68" y2="474.4" stroke="#363636" stroke-width="1.0" />
<line x1="143.68" y1="237.6" x2="143.68" y2="240.3" stroke="#363636" stroke-width="1.0" />
<line x1="151.8" y1="477.1" x2="151.8" y2="474.4" stroke="#363636" stroke-width="1.0" />
<line x1="151.8" y1="237.6" x2="151.8" y2="240.3" stroke="#363636" stroke-width="1.0" />
<line x1="158.09" y1="477.1" x2="158.09" y2="474.4" stroke="#363636" stroke-width="1.0" />
<line x1="158.09" y1="237.6" x2="158.09" y2="240.3" stroke="#363636" stroke-width="1.0" />
<line x1="163.23" y1="477.1" x2="163.23" y2="474.4" stroke="#363636" stroke-width="1.0" />
<line x1="163.23" y1="237.6" x2="163.23" y2="240.3" stroke="#363636" stroke-width="1.0" />
<line x1="167.58" y1="477.1" x2="167.58" y2="474.4" stroke="#363636" stroke-width="1.0" />
<line x1="167.58" y1="237.6" x2="167.58" y2="240.3" stroke="#363636" stroke-width="1.0" />
<line x1="171.35" y1="477.1" x2="171.35" y2="474.4" stroke="#363636" stroke-width="1.0" />
<line x1="171.35" y1="237.6" x2="171.35" y2="240.3" stroke="#363636" stroke-width="1.0" />
<line x1="174.67" y1="477.1" x2="174.67" y2="474.4" stroke="#363636" stroke-width="1.0" />
<line x1="174.67" y1="237.6" x2="174.67" y2="240.3" stroke="#363636" stroke-width="1.0" />
<line x1="177.64" y1="477.1" x2="177.64" y2="472.7" stroke="#363636" stroke-width="1.0" />
<line x1="177.64" y1="237.6" x2="177.64" y2="242" stroke="#363636" stroke-width="1.0" />
<line x1="197.19" y1="477.1" x2="197.19" y2="474.4" stroke="#363636" stroke-width="1.0" />
<line x1="197.19" y1="237.6" x2="197.19" y2="240.3" stroke="#363636" stroke-width="1.0" />
<line x1="208.62" y1="477.1" x2="208.62" y2="474.4" stroke="#363636" stroke-width="1.0" />
<line x1="208.62" y1="237.6" x2="208.62" y2="240.3" stroke="#363636" stroke-width="1.0" />
<line x1="216.74" y1="477.1" x2="216.74" y2="474.4" stroke="#363636" stroke-width="1.0" />
<line x1="216.74" y1="237.6" x2="216.74" y2="240.3" stroke="#363636" stroke-width="1.0" />
<line x1="223.03" y1="477.1" x2="223.03" y2="474.4" stroke="#363636" stroke-width="1.0" />
<line x1="223.03" y1="237.6" x2="223.03" y2="240.3" stroke="#363636" stroke-width="1.0" />
<line x1="228.17" y1="477.1" x2="228.17" y2="474.4" stroke="#363636" stroke-width="1.0" />
<line x1="228.17" y1="237.6" x2="228.17" y2="240.3" stroke="#363636" stroke-width="1.0" />
<line x1="232.52" y1="477.1" x2="232.52" y2="474.4" stroke="#363636" stroke-width="1.0" />
<line x1="232.52" y1="237.6" x2="232.52" y2="240.3" stroke="#363636" stroke-width="1.0" />
<line x1="236.29" y1="477.1" x2="236.29" y2="474.4" stroke="#363636" stroke-width="1.0" />
<line x1="236.29" y1="237.6" x2="236.29" y2="240.3" stroke="#363636" stroke-width="1.0" />
<line x1="239.61" y1="477.1" x2="239.61" y2="474.4" stroke="#363636" stroke-width="1.0" />
<line x1="239.61" y1="237.6" x2="239.61" y2="240.3" stroke="#363636" stroke-width="1.0" />
<line x1="242.58" y1="477.1" x2="242.58" y2="472.7" stroke="#363636" stroke-width="1.0" />
<line x1="242.58" y1="237.6" x2="242.58" y2="242" stroke="#363636" stroke-width="1.0" />
<line x1="262.13" y1="477.1" x2="262.13" y2="474.4" stroke="#363636" stroke-width="1.0" />
<line x1="262.13" y1="237.6" x2="262.13" y2="240.3" stroke="#363636" stroke-width="1.0" />
<line x1="273.56" y1="477.1" x2="273.56" y2="474.4" stroke="#363636" stroke-width="1.0" />
<line x1="273.56" y1="237.6" x2="273.56" y2="240.3" stroke="#363636" stroke-width="1.0" />
<line x1="281.68" y1="477.1" x2="281.68" y2="474.4" stroke="#363636" stroke-width="1.0" />
<line x1="281.68" y1="237.6" x2="281.68" y2="240.3" stroke="#363636" stroke-width="1.0" />
<line x1="287.97" y1="477.1" x2="287.97" y2="474.4" stroke="#363636" stroke-width="1.0" />
<line x1="287.97" y1="237.6" x2="287.97" y2="240.3" stroke="#363636" stroke-width="1.0" />
<line x1="293.11" y1="477.1" x2="293.11" y2="474.4" stroke="#363636" stroke-width="1.0" />
<line x1="293.11" y1="237.6" x2="293.11" y2="240.3" stroke="#363636" stroke-width="1.0" />
<line x1="297.46" y1="477.1" x2="297.46" y2="474.4" stroke="#363636" stroke-width="1.0" />
<line x1="297.46" y1="237.6" x2="297.46" y2="240.3" stroke="#363636" stroke-width="1.0" />
<line x1="301.23" y1="477.1" x2="301.23" y2="474.4" stroke="#363636" stroke-width="1.0" />
<line x1="301.23" y1="237.6" x2="301.23" y2="240.3" stroke="#363636" stroke-width="1.0" />
<line x1="304.55" y1="477.1" x2="304.55" y2="474.4" stroke="#363636" stroke-width="1.0" />
<line x1="304.55" y1="237.6" x2="304.55" y2="240.3" stroke="#363636" stroke-width="1.0" />
<line x1="307.52" y1="477.1" x2="307.52" y2="472.7" stroke="#363636" stroke-width="1.0" />
<line x1="307.52" y1="237.6" x2="307.52" y2="242" stroke="#363636" stroke-width="1.0" />
<line x1="327.07" y1="477.1" x2="327.07" y2="474.4" stroke="#363636" stroke-width="1.0" />
<line x1="327.07" y1="237.6" x2="327.07" y2="240.3" stroke="#363636" stroke-width="1.0" />
<line x1="338.5" y1="477.1" x2="338.5" y2="474.4" stroke="#363636" stroke-width="1.0" />
<line x1="338.5" y1="237.6" x2="338.5" y2="240.3" stroke="#363636" stroke-width="1.0" />
<line x1="346.62" y1="477.1" x2="346.62" y2="474.4" stroke="#363636" stroke-width="1.0" />
<line x1="346.62" y1="237.6" x2="346.62" y2="240.3" stroke="#363636" stroke-width="1.0" />
<line x1="352.91" y1="477.1" x2="352.91" y2="474.4" stroke="#363636" stroke-width="1.0" />
<line x1="352.91" y1="237.6" x2="352.91" y2="240.3" stroke="#363636" stroke-width="1.0" />
<line x1="358.05" y1="477.1" x2="358.05" y2="474.4" stroke="#363636" stroke-width="1.0" />
<line x1="358.05" y1="237.6" x2="358.05" y2="240.3" stroke="#363636" stroke-width="1.0" />
<line x1="362.4" y1="477.1" x2="362.4" y2="474.4" stroke="#363636" stroke-width="1.0" />
<line x1="362.4" y1="237.6" x2="362.4" y2="240.3" stroke="#363636" stroke-width="1.0" />
<line x1="366.17" y1="477.1" x2="366.17" y2="474.4" stroke="#363636" stroke-width="1.0" />
<line x1="366.17" y1="237.6" x2="366.17" y2="240.3" stroke="#363636" stroke-width="1.0" />
<line x1="369.49" y1="477.1" x2="369.49" y2="474.4" stroke="#363636" stroke-width="1.0" />
<line x1="369.49" y1="237.6" x2="369.49" y2="240.3" stroke="#363636" stroke-width="1.0" />
<line x1="372.46" y1="477.1" x2="372.46" y2="472.7" stroke="#363636" stroke-width="1.0" />
<line x1="372.46" y1="237.6" x2="372.46" y2="242" stroke="#363636" stroke-width="1.0" />
<line x1="392.01" y1="477.1" x2="392.01" y2="474.4" stroke="#363636" stroke-width="1.0" />
<line x1="392.01" y1="237.6" x2="392.01" y2="240.3" stroke="#363636" stroke-width="1.0" />
<line x1="403.44" y1="477.1" x2="403.44" y2="474.4" stroke="#363636" stroke-width="1.0" />
<line x1="403.44" y1="237.6" x2="403.44" y2="240.3" stroke="#363636" stroke-width="1.0" />
<line x1="411.56" y1="477.1" x2="411.56" y2="474.4" stroke="#363636" stroke-width="1.0" />
<line x1="411.56" y1="237.6" x2="411.56" y2="240.3" stroke="#363636" stroke-width="1.0" />
<line x1="417.85" y1="477.1" x2="417.85" y2="474.4" stroke="#363636" stroke-width="1.0" />
<line x1="417.85" y1="237.6" x2="417.85" y2="240.3" stroke="#363636" stroke-width="1.0" />
<line x1="422.99" y1="477.1" x2="422.99" y2="474.4" stroke="#363636" stroke-width="1.0" />
<line x1="422.99" y1="237.6" x2="422.99" y2="240.3" stroke="#363636" stroke-width="1.0" />
<line x1="427.34" y1="477.1" x2="427.34" y2="474.4" stroke="#363636" stroke-width="1.0" />
<line x1="427.34" y1="237.6" x2="427.34" y2="240.3" stroke="#363636" stroke-width="1.0" />
<line x1="431.11" y1="477.1" x2="431.11" y2="474.4" stroke="#363636" stroke-width="1.0" />
<line x1="431.11" y1="237.6" x2="431.11" y2="240.3" stroke="#363636" stroke-width="1.0" />
<line x1="434.43" y1="477.1" x2="434.43" y2="474.4" stroke="#363636" stroke-width="1.0" />
<line x1="434.43" y1="237.6" x2="434.43" y2="240.3" stroke="#363636" stroke-width="1.0" />
<line x1="437.4" y1="477.1" x2="437.4" y2="472.7" stroke="#363636" stroke-width="1.0" />
<line x1="437.4" y1="237.6" x2="437.4" y2="242" stroke="#363636" stroke-width="1.0" />
<line x1="112.8" y1="477.2" x2="117.2" y2="477.2" stroke="#363636" stroke-width="1.0" />
<line x1="437.4" y1="477.2" x2="433" y2="477.2" stroke="#363636" stroke-width="1.0" />
<line x1="112.8" y1="465.67" x2="115.5" y2="465.67" stroke="#363636" stroke-width="1.0" />
<line x1="437.4" y1="465.67" x2="434.7" y2="465.67" stroke="#363636" stroke-width="1.0" />
<line x1="112.8" y1="458.93" x2="115.5" y2="458.93" stroke="#363636" stroke-width="1.0" />
<line x1="437.4" y1="458.93" x2="434.7" y2="458.93" stroke="#363636" stroke-width="1.0" />
<line x1="112.8" y1="454.14" x2="115.5" y2="454.14" stroke="#363636" stroke-width="1.0" />
<line x1="437.4" y1="454.14" x2="434.7" y2="454.14" stroke="#363636" stroke-width="1.0" />
<line x1="112.8" y1="450.43" x2="115.5" y2="450.43" stroke="#363636" stroke-width="1.0" />
<line x1="437.4" y1="450.43" x2="434.7" y2="450.43" stroke="#363636" stroke-width="1.0" />
<line x1="112.8" y1="447.4" x2="115.5" y2="447.4" stroke="#363636" stroke-width="1.0" />
<line x1="437.4" y1="447.4" x2="434.7" y2="447.4" stroke="#363636" stroke-width="1.0" />
<line x1="112.8" y1="444.83" x2="115.5" y2="444.83" stroke="#363636" stroke-width="1.0" />
<line x1="437.4" y1="444.83" x2="434.7" y2="444.83" stroke="#363636" stroke-width="1.0" />
<line x1="112.8" y1="442.61" x2="115.5" y2="442.61" stroke="#363636" stroke-width="1.0" />
<line x1="437.4" y1="442.61" x2="434.7" y2="442.61" stroke="#363636" stroke-width="1.0" />
<line x1="112.8" y1="440.65" x2="115.5" y2="440.65" stroke="#363636" stroke-width="1.0" />
<line x1="437.4" y1="440.65" x2="434.7" y2="440.65" stroke="#363636" stroke-width="1.0" />
<line x1="112.8" y1="438.9" x2="117.2" y2="438.9" stroke="#363636" stroke-width="1.0" />
<line x1="437.4" y1="438.9" x2="433" y2="438.9" stroke="#363636" stroke-width="1.0" />
<line x1="112.8" y1="427.37" x2="115.5" y2="427.37" stroke="#363636" stroke-width="1.0" />
<line x1="437.4" y1="427.37" x2="434.7" y2="427.37" stroke="#363636" stroke-width="1.0" />
<line x1="112.8" y1="420.63" x2="115.5" y2="420.63" stroke="#363636" stroke-width="1.0" />
<line x1="437.4" y1="420.63" x2="434.7" y2="420.63" stroke="#363636" stroke-width="1.0" />
<line x1="112.8" y1="415.84" x2="115.5" y2="415.84" stroke="#363636" stroke-width="1.0" />
<line x1="437.4" y1="415.84" x2="434.7" y2="415.84" stroke="#363636" stroke-width="1.0" />
<line x1="112.8" y1="412.13" x2="115.5" y2="412.13" stroke="#363636" stroke-width="1.0" />
<line x1="437.4" y1="412.13" x2="434.7" y2="412.13" stroke="#363636" stroke-width="1.0" />
<line x1="112.8" y1="409.1" x2="115.5" y2="409.1" stroke="#363636" stroke-width="1.0" />
<line x1="437.4" y1="409.1" x2="434.7" y2="409.1" stroke="#363636" stroke-width="1.0" />
<line x1="112.8" y1="406.53" x2="115.5" y2="406.53" stroke="#363636" stroke-width="1.0" />
<line x1="437.4" y1="406.53" x2="434.7" y2="406.53" stroke="#363636" stroke-width="1.0" />
<line x1="112.8" y1="404.31" x2="115.5" y2="404.31" stroke="#363636" stroke-width="1.0" />
<line x1="437.4" y1="404.31" x2="434.7" y2="404.31" stroke="#363636" stroke-width="1.0" />
<line x1="112.8" y1="402.35" x2="115.5" y2="402.35" stroke="#363636" stroke-width="1.0" />
<line x1="437.4" y1="402.35" x2="434.7" y2="402.35" stroke="#363636" stroke-width="1.0" />
<line x1="112.8" y1="400.6" x2="117.2" y2="400.6" stroke="#363636" stroke-width="1.0" />
<line x1="437.4" y1="400.6" x2="433" y2="400.6" stroke="#363636" stroke-width="1.0" />
<line x1="112.8" y1="389.07" x2="115.5" y2="389.07" stroke="#363636" stroke-width="1.0" />
<line x1="437.4" y1="389.07" x2="434.7" y2="389.07" stroke="#363636" stroke-width="1.0" />
<line x1="112.8" y1="382.33" x2="115.5" y2="382.33" stroke="#363636" stroke-width="1.0" />
<line x1="437.4" y1="382.33" x2="434.7" y2="382.33" stroke="#363636" stroke-width="1.0" />
<line x1="112.8" y1="377.54" x2="115.5" y2="377.54" stroke="#363636" stroke-width="1.0" />
<line x1="437.4" y1="377.54" x2="434.7" y2="377.54" stroke="#363636" stroke-width="1.0" />
<line x1="112.8" y1="373.83" x2="115.5" y2="373.83" stroke="#363636" stroke-width="1.0" />
<line x1="437.4" y1="373.83" x2="434.7" y2="373.83" stroke="#363636" stroke-width="1.0" />
<line x1="112.8" y1="370.8" x2="115.5" y2="370.8" stroke="#363636" stroke-width="1.0" />
<line x1="437.4" y1="370.8" x2="434.7" y2="370.8" stroke="#363636" stroke-width="1.0" />
<line x1="112.8" y1="368.23" x2="115.5" y2="368.23" stroke="#363636" stroke-width="1.0" />
<line x1="437.4" y1="368.23" x2="434.7" y2="368.23" stroke="#363636" stroke-width="1.0" />
<line x1="112.8" y1="366.01" x2="115.5" y2="366.01" stroke="#363636" stroke-width="1.0" />
<line x1="437.4" y1="366.01" x2="434.7" y2="366.01" stroke="#363636" stroke-width="1.0" />
<line x1="112.8" y1="364.05" x2="115.5" y2="364.05" stroke="#363636" stroke-width="1.0" />
<line x1="437.4" y1="364.05" x2="434.7" y2="364.05" stroke="#363636" stroke-width="1.0" />
<line x1="112.8" y1="362.3" x2="117.2" y2="362.3" stroke="#363636" stroke-width="1.0" />
<line x1="437.4" y1="362.3" x2="433" y2="362.3" stroke="#363636" stroke-width="1.0" />
<line x1="112.8" y1="350.77" x2="115.5" y2="350.77" stroke="#363636" stroke-width="1.0" />
<line x1="437.4" y1="350.77" x2="434.7" y2="350.77" stroke="#363636" stroke-width="1.0" />
<line x1="112.8" y1="344.03" x2="115.5" y2="344.03" stroke="#363636" stroke-width="1.0" />
<line x1="437.4" y1="344.03" x2="434.7" y2="344.03" stroke="#363636" stroke-width="1.0" />
<line x1="112.8" y1="339.24" x2="115.5" y2="339.24" stroke="#363636" stroke-width="1.0" />
<line x1="437.4" y1="339.24" x2="434.7" y2="339.24" stroke="#363636" stroke-width="1.0" />
<line x1="112.8" y1="335.53" x2="115.5" y2="335.53" stroke="#363636" stroke-width="1.0" />
<line x1="437.4" y1="335.53" x2="434.7" y2="335.53" stroke="#363636" stroke-width="1.0" />
<line x1="112.8" y1="332.5" x2="115.5" y2="332.5" stroke="#363636" stroke-width="1.0" />
<line x1="437.4" y1="332.5" x2="434.7" y2="332.5" stroke="#363636" stroke-width="1.0" />
<line x1="112.8" y1="329.93" x2="115.5" y2="329.93" stroke="#363636" stroke-width="1.0" />
<line x1="437.4" y1="329.93" x2="434.7" y2="329.93" stroke="#363636" stroke-width="1.0" />
<line x1="112.8" y1="327.71" x2="115.5" y2="327.71" stroke="#363636" stroke-width="1.0" />
<line x1="437.4" y1="327.71" x2="434.7" y2="327.71" stroke="#363636" stroke-width="1.0" />
<line x1="112.8" y1="325.75" x2="115.5" y2="325.75" stroke="#363636" stroke-width="1.0" />
<line x1="437.4" y1="325.75" x2="434.7" y2="325.75" stroke="#363636" stroke-width="1.0" />
<line x1="112.8" y1="324" x2="117.2" y2="324" stroke="#363636" stroke-width="1.0" />
<line x1="437.4" y1="324" x2="433" y2="324" stroke="#363636" stroke-width="1.0" />
<line x1="112.8" y1="312.47" x2="115.5" y2="312.47" stroke="#363636" stroke-width="1.0" />
<line x1="437.4" y1="312.47" x2="434.7" y2="312.47" stroke="#363636" stroke-width="1.0" />
<line x1="112.8" y1="305.73" x2="115.5" y2="305.73" stroke="#363636" stroke-width="1.0" />
<line x1="437.4" y1="305.73" x2="434.7" y2="305.73" stroke="#363636" stroke-width="1.0" />
<line x1="112.8" y1="300.94" x2="115.5" y2="300.94" stroke="#363636" stroke-width="1.0" />
<line x1="437.4" y1="300.94" x2="434.7" y2="300.94" stroke="#363636" stroke-width="1.0" />
<line x1="112.8" y1="297.23" x2="115.5" y2="297.23" stroke="#363636" stroke-width="1.0" />
<line x1="437.4" y1="297.23" x2="434.7" y2="297.23" stroke="#363636" stroke-width="1.0" />
<line x1="112.8" y1="294.2" x2="115.5" y2="294.2" stroke="#363636" stroke-width="1.0" />
<line x1="437.4" y1="294.2" x2="434.7" y2="294.2" stroke="#363636" stroke-width="1.0" />
<line x1="112.8" y1="291.63" x2="115.5" y2="291.63" stroke="#363636" stroke-width="1.0" />
<line x1="437.4" y1="291.63" x2="434.7" y2="291.63" stroke="#363636" stroke-width="1.0" />
<line x1="112.8" y1="289.41" x2="115.5" y2="289.41" stroke="#363636" stroke-width="1.0" />
<line x1="437.4" y1="289.41" x2="434.7" y2="289.41" stroke="#363636" stroke-width="1.0" />
<line x1="112.8" y1="287.45" x2="115.5" y2="287.45" stroke="#363636" stroke-width="1.0" />
<line x1="437.4" y1="287.45" x2="434.7" y2="287.45" stroke="#363636" stroke-width="1.0" />
<line x1="112.8" y1="285.7" x2="117.2" y2="285.7" stroke="#363636" stroke-width="1.0" />
<line x1="437.4" y1="285.7" x2="433" y2="285.7" stroke="#363636" stroke-width="1.0" />
<line x1="112.8" y1="274.17" x2="115.5" y2="274.17" stroke="#363636" stroke-width="1.0" />
<line x1="437.4" y1="274.17" x2="434.7" y2="274.17" stroke="#363636" stroke-width="1.0" />
<line x1="112.8" y1="267.43" x2="115.5" y2="267.43" stroke="#363636" stroke-width="1.0" />
<line x1="437.4" y1="267.43" x2="434.7" y2="267.43" stroke="#363636" stroke-width="1.0" />
<line x1="112.8" y1="262.64" x2="115.5" y2="262.64" stroke="#363636" stroke-width="1.0" />
<line x1="437.4" y1="262.64" x2="434.7" y2="262.64" stroke="#363636" stroke-width="1.0" />
<line x1="112.8" y1="258.93" x2="115.5" y2="258.93" stroke="#363636" stroke-width="1.0" />
<line x1="437.4" y1="258.93" x2="434.7" y2="258.93" stroke="#363636" stroke-width="1.0" />
<line x1="112.8" y1="255.9" x2="115.5" y2="255.9" stroke="#363636" stroke-width="1.0" />
<line x1="437.4" y1="255.9" x2="434.7" y2="255.9" stroke="#363636" stroke-width="1.0" />
<line x1="112.8" y1="253.33" x2="115.5" y2="253.33" stroke="#363636" stroke-width="1.0" />
<line x1="437.4" y1="253.33" x2="434.7" y2="253.33" stroke="#363636" stroke-width="1.0" />
<line x1="112.8" y1="251.11" x2="115.5" y2="251.11" stroke="#363636" stroke-width="1.0" />
<line x1="437.4" y1="251.11" x2="434.7" y2="251.11" stroke="#363636" stroke-width="1.0" />
<line x1="112.8" y1="249.15" x2="115.5" y2="249.15" stroke="#363636" stroke-width="1.0" />
<line x1="437.4" y1="249.15" x2="434.7" y2="249.15" stroke="#363636" stroke-width="1.0" />
<line x1="112.8" y1="247.4" x2="117.2" y2="247.4" stroke="#363636" stroke-width="1.0" />
<line x1="437.4" y1="247.4" x2="433" y2="247.4" stroke="#363636" stroke-width="1.0" />
<text x="112.9" y="488.4" font-size="9.3" text-anchor="middle" fill="#333">10<tspan font-size="6.2" dy="-4">−3</tspan></text>
<text x="177.84" y="488.4" font-size="9.3" text-anchor="middle" fill="#333">10<tspan font-size="6.2" dy="-4">−2</tspan></text>
<text x="242.78" y="488.4" font-size="9.3" text-anchor="middle" fill="#333">10<tspan font-size="6.2" dy="-4">−1</tspan></text>
<text x="307.72" y="488.4" font-size="9.3" text-anchor="middle" fill="#333">10<tspan font-size="6.2" dy="-4">0</tspan></text>
<text x="372.66" y="488.4" font-size="9.3" text-anchor="middle" fill="#333">10<tspan font-size="6.2" dy="-4">1</tspan></text>
<text x="437.6" y="488.4" font-size="9.3" text-anchor="middle" fill="#333">10<tspan font-size="6.2" dy="-4">2</tspan></text>
<text x="109.6" y="481.2" font-size="9.3" text-anchor="end" fill="#333">10<tspan font-size="6.2" dy="-3.8">1</tspan></text>
<text x="109.6" y="442.9" font-size="9.3" text-anchor="end" fill="#333">10<tspan font-size="6.2" dy="-3.8">2</tspan></text>
<text x="109.6" y="404.6" font-size="9.3" text-anchor="end" fill="#333">10<tspan font-size="6.2" dy="-3.8">3</tspan></text>
<text x="109.6" y="366.3" font-size="9.3" text-anchor="end" fill="#333">10<tspan font-size="6.2" dy="-3.8">4</tspan></text>
<text x="109.6" y="328" font-size="9.3" text-anchor="end" fill="#333">10<tspan font-size="6.2" dy="-3.8">5</tspan></text>
<text x="109.6" y="289.7" font-size="9.3" text-anchor="end" fill="#333">10<tspan font-size="6.2" dy="-3.8">6</tspan></text>
<text x="109.6" y="251.4" font-size="9.3" text-anchor="end" fill="#333">10<tspan font-size="6.2" dy="-3.8">7</tspan></text>
<circle cx="120.1" cy="257.1" r="3.4" fill="#a248f0" stroke="#6430b4" stroke-width="0.7"/>
<circle cx="132.2" cy="257.6" r="3.4" fill="#a248f0" stroke="#6430b4" stroke-width="0.7"/>
<circle cx="132.2" cy="264" r="3.4" fill="#a248f0" stroke="#6430b4" stroke-width="0.7"/>
<circle cx="143.4" cy="263" r="3.4" fill="#a248f0" stroke="#6430b4" stroke-width="0.7"/>
<circle cx="158.2" cy="259.9" r="3.4" fill="#a248f0" stroke="#6430b4" stroke-width="0.7"/>
<circle cx="157.8" cy="269.2" r="3.4" fill="#a248f0" stroke="#6430b4" stroke-width="0.7"/>
<circle cx="196.6" cy="276.5" r="3.4" fill="#a248f0" stroke="#6430b4" stroke-width="0.7"/>
<circle cx="222.9" cy="289" r="3.4" fill="#a248f0" stroke="#6430b4" stroke-width="0.7"/>
<circle cx="242.5" cy="302.7" r="3.4" fill="#a248f0" stroke="#6430b4" stroke-width="0.7"/>
<circle cx="258" cy="309.4" r="3.4" fill="#a248f0" stroke="#6430b4" stroke-width="0.7"/>
<circle cx="262.5" cy="311.2" r="3.4" fill="#a248f0" stroke="#6430b4" stroke-width="0.7"/>
<circle cx="281.9" cy="324.2" r="3.4" fill="#a248f0" stroke="#6430b4" stroke-width="0.7"/>
<circle cx="307.3" cy="343.3" r="3.4" fill="#a248f0" stroke="#6430b4" stroke-width="0.7"/>
<circle cx="344.4" cy="370.7" r="3.4" fill="#a248f0" stroke="#6430b4" stroke-width="0.7"/>
<circle cx="372.3" cy="395.4" r="3.4" fill="#a248f0" stroke="#6430b4" stroke-width="0.7"/>
<circle cx="394.7" cy="409.7" r="3.4" fill="#a248f0" stroke="#6430b4" stroke-width="0.7"/>
<circle cx="405.1" cy="421.6" r="3.4" fill="#a248f0" stroke="#6430b4" stroke-width="0.7"/>
<circle cx="409.5" cy="428.5" r="3.4" fill="#a248f0" stroke="#6430b4" stroke-width="0.7"/>
<circle cx="420.8" cy="436.4" r="3.4" fill="#a248f0" stroke="#6430b4" stroke-width="0.7"/>
<circle cx="434.9" cy="455.2" r="3.4" fill="#a248f0" stroke="#6430b4" stroke-width="0.7"/>
<rect x="130.5" y="262.01" width="3.4" height="3.4" fill="#2c2cb4" stroke="#3a3ad0" stroke-width="0.4"/>
<rect x="135.25" y="262.85" width="3.4" height="3.4" fill="#2c2cb4" stroke="#3a3ad0" stroke-width="0.4"/>
<rect x="140" y="263.76" width="3.4" height="3.4" fill="#2c2cb4" stroke="#3a3ad0" stroke-width="0.4"/>
<rect x="144.75" y="264.75" width="3.4" height="3.4" fill="#2c2cb4" stroke="#3a3ad0" stroke-width="0.4"/>
<rect x="149.5" y="265.83" width="3.4" height="3.4" fill="#2c2cb4" stroke="#3a3ad0" stroke-width="0.4"/>
<rect x="154.25" y="266.99" width="3.4" height="3.4" fill="#2c2cb4" stroke="#3a3ad0" stroke-width="0.4"/>
<rect x="159" y="268.24" width="3.4" height="3.4" fill="#2c2cb4" stroke="#3a3ad0" stroke-width="0.4"/>
<rect x="163.75" y="269.58" width="3.4" height="3.4" fill="#2c2cb4" stroke="#3a3ad0" stroke-width="0.4"/>
<rect x="168.5" y="271.02" width="3.4" height="3.4" fill="#2c2cb4" stroke="#3a3ad0" stroke-width="0.4"/>
<rect x="173.25" y="272.54" width="3.4" height="3.4" fill="#2c2cb4" stroke="#3a3ad0" stroke-width="0.4"/>
<rect x="178" y="274.16" width="3.4" height="3.4" fill="#2c2cb4" stroke="#3a3ad0" stroke-width="0.4"/>
<rect x="182.75" y="275.88" width="3.4" height="3.4" fill="#2c2cb4" stroke="#3a3ad0" stroke-width="0.4"/>
<rect x="187.5" y="277.69" width="3.4" height="3.4" fill="#2c2cb4" stroke="#3a3ad0" stroke-width="0.4"/>
<rect x="192.25" y="279.59" width="3.4" height="3.4" fill="#2c2cb4" stroke="#3a3ad0" stroke-width="0.4"/>
<rect x="197" y="281.59" width="3.4" height="3.4" fill="#2c2cb4" stroke="#3a3ad0" stroke-width="0.4"/>
<rect x="201.75" y="283.68" width="3.4" height="3.4" fill="#2c2cb4" stroke="#3a3ad0" stroke-width="0.4"/>
<rect x="206.5" y="285.86" width="3.4" height="3.4" fill="#2c2cb4" stroke="#3a3ad0" stroke-width="0.4"/>
<rect x="211.25" y="288.12" width="3.4" height="3.4" fill="#2c2cb4" stroke="#3a3ad0" stroke-width="0.4"/>
<rect x="216" y="290.48" width="3.4" height="3.4" fill="#2c2cb4" stroke="#3a3ad0" stroke-width="0.4"/>
<rect x="220.75" y="292.92" width="3.4" height="3.4" fill="#2c2cb4" stroke="#3a3ad0" stroke-width="0.4"/>
<rect x="225.5" y="295.44" width="3.4" height="3.4" fill="#2c2cb4" stroke="#3a3ad0" stroke-width="0.4"/>
<rect x="230.25" y="298.05" width="3.4" height="3.4" fill="#2c2cb4" stroke="#3a3ad0" stroke-width="0.4"/>
<rect x="235" y="300.73" width="3.4" height="3.4" fill="#2c2cb4" stroke="#3a3ad0" stroke-width="0.4"/>
<rect x="239.75" y="303.48" width="3.4" height="3.4" fill="#2c2cb4" stroke="#3a3ad0" stroke-width="0.4"/>
<rect x="244.5" y="306.31" width="3.4" height="3.4" fill="#2c2cb4" stroke="#3a3ad0" stroke-width="0.4"/>
<rect x="249.25" y="309.21" width="3.4" height="3.4" fill="#2c2cb4" stroke="#3a3ad0" stroke-width="0.4"/>
<rect x="254" y="312.18" width="3.4" height="3.4" fill="#2c2cb4" stroke="#3a3ad0" stroke-width="0.4"/>
<rect x="258.75" y="315.21" width="3.4" height="3.4" fill="#2c2cb4" stroke="#3a3ad0" stroke-width="0.4"/>
<rect x="263.5" y="318.3" width="3.4" height="3.4" fill="#2c2cb4" stroke="#3a3ad0" stroke-width="0.4"/>
<rect x="268.25" y="321.45" width="3.4" height="3.4" fill="#2c2cb4" stroke="#3a3ad0" stroke-width="0.4"/>
<rect x="273" y="324.65" width="3.4" height="3.4" fill="#2c2cb4" stroke="#3a3ad0" stroke-width="0.4"/>
<rect x="277.75" y="327.91" width="3.4" height="3.4" fill="#2c2cb4" stroke="#3a3ad0" stroke-width="0.4"/>
<rect x="282.5" y="331.21" width="3.4" height="3.4" fill="#2c2cb4" stroke="#3a3ad0" stroke-width="0.4"/>
<rect x="287.25" y="334.56" width="3.4" height="3.4" fill="#2c2cb4" stroke="#3a3ad0" stroke-width="0.4"/>
<rect x="292" y="337.95" width="3.4" height="3.4" fill="#2c2cb4" stroke="#3a3ad0" stroke-width="0.4"/>
<rect x="296.75" y="341.38" width="3.4" height="3.4" fill="#2c2cb4" stroke="#3a3ad0" stroke-width="0.4"/>
<rect x="301.5" y="344.85" width="3.4" height="3.4" fill="#2c2cb4" stroke="#3a3ad0" stroke-width="0.4"/>
<rect x="306.25" y="348.36" width="3.4" height="3.4" fill="#2c2cb4" stroke="#3a3ad0" stroke-width="0.4"/>
<rect x="311" y="351.9" width="3.4" height="3.4" fill="#2c2cb4" stroke="#3a3ad0" stroke-width="0.4"/>
<rect x="315.75" y="355.46" width="3.4" height="3.4" fill="#2c2cb4" stroke="#3a3ad0" stroke-width="0.4"/>
<rect x="320.5" y="359.06" width="3.4" height="3.4" fill="#2c2cb4" stroke="#3a3ad0" stroke-width="0.4"/>
<rect x="325.25" y="362.68" width="3.4" height="3.4" fill="#2c2cb4" stroke="#3a3ad0" stroke-width="0.4"/>
<rect x="330" y="366.33" width="3.4" height="3.4" fill="#2c2cb4" stroke="#3a3ad0" stroke-width="0.4"/>
<rect x="334.75" y="370.01" width="3.4" height="3.4" fill="#2c2cb4" stroke="#3a3ad0" stroke-width="0.4"/>
<rect x="339.5" y="373.71" width="3.4" height="3.4" fill="#2c2cb4" stroke="#3a3ad0" stroke-width="0.4"/>
<rect x="344.25" y="377.43" width="3.4" height="3.4" fill="#2c2cb4" stroke="#3a3ad0" stroke-width="0.4"/>
<rect x="349" y="381.17" width="3.4" height="3.4" fill="#2c2cb4" stroke="#3a3ad0" stroke-width="0.4"/>
<rect x="353.75" y="384.94" width="3.4" height="3.4" fill="#2c2cb4" stroke="#3a3ad0" stroke-width="0.4"/>
<rect x="358.5" y="388.73" width="3.4" height="3.4" fill="#2c2cb4" stroke="#3a3ad0" stroke-width="0.4"/>
<rect x="363.25" y="392.55" width="3.4" height="3.4" fill="#2c2cb4" stroke="#3a3ad0" stroke-width="0.4"/>
<rect x="368" y="396.39" width="3.4" height="3.4" fill="#2c2cb4" stroke="#3a3ad0" stroke-width="0.4"/>
<rect x="372.75" y="400.26" width="3.4" height="3.4" fill="#2c2cb4" stroke="#3a3ad0" stroke-width="0.4"/>
<rect x="377.5" y="404.16" width="3.4" height="3.4" fill="#2c2cb4" stroke="#3a3ad0" stroke-width="0.4"/>
<rect x="382.25" y="408.09" width="3.4" height="3.4" fill="#2c2cb4" stroke="#3a3ad0" stroke-width="0.4"/>
<rect x="387" y="412.05" width="3.4" height="3.4" fill="#2c2cb4" stroke="#3a3ad0" stroke-width="0.4"/>
<rect x="391.75" y="416.06" width="3.4" height="3.4" fill="#2c2cb4" stroke="#3a3ad0" stroke-width="0.4"/>
<rect x="396.5" y="420.11" width="3.4" height="3.4" fill="#2c2cb4" stroke="#3a3ad0" stroke-width="0.4"/>
<rect x="401.25" y="424.2" width="3.4" height="3.4" fill="#2c2cb4" stroke="#3a3ad0" stroke-width="0.4"/>
<rect x="406" y="428.35" width="3.4" height="3.4" fill="#2c2cb4" stroke="#3a3ad0" stroke-width="0.4"/>
<rect x="410.75" y="432.56" width="3.4" height="3.4" fill="#2c2cb4" stroke="#3a3ad0" stroke-width="0.4"/>
<path d="M135.5,262.11 L137.8,266.14 L133.2,266.14 Z" fill="#3fe43f" stroke="#30bf30" stroke-width="0.8"/>
<path d="M136.7,264.31 L139,268.34 L134.4,268.34 Z" fill="#2fe02f" stroke="#25b825" stroke-width="0.8"/>
<path d="M137.9,262.35 L140.2,266.38 L135.6,266.38 Z" fill="#3fe43f" stroke="#30bf30" stroke-width="0.8"/>
<path d="M139.1,264.55 L141.4,268.58 L136.8,268.58 Z" fill="#2fe02f" stroke="#25b825" stroke-width="0.8"/>
<path d="M140.3,262.66 L142.6,266.68 L138,266.68 Z" fill="#3fe43f" stroke="#30bf30" stroke-width="0.8"/>
<path d="M141.5,264.86 L143.8,268.88 L139.2,268.88 Z" fill="#2fe02f" stroke="#25b825" stroke-width="0.8"/>
<path d="M142.7,263.03 L145,267.05 L140.4,267.05 Z" fill="#3fe43f" stroke="#30bf30" stroke-width="0.8"/>
<path d="M143.9,265.23 L146.2,269.25 L141.6,269.25 Z" fill="#2fe02f" stroke="#25b825" stroke-width="0.8"/>
<path d="M145.1,263.46 L147.4,267.48 L142.8,267.48 Z" fill="#3fe43f" stroke="#30bf30" stroke-width="0.8"/>
<path d="M146.3,265.66 L148.6,269.68 L144,269.68 Z" fill="#2fe02f" stroke="#25b825" stroke-width="0.8"/>
<path d="M147.5,263.95 L149.8,267.97 L145.2,267.97 Z" fill="#3fe43f" stroke="#30bf30" stroke-width="0.8"/>
<path d="M148.7,266.15 L151,270.17 L146.4,270.17 Z" fill="#2fe02f" stroke="#25b825" stroke-width="0.8"/>
<path d="M149.9,264.49 L152.2,268.52 L147.6,268.52 Z" fill="#3fe43f" stroke="#30bf30" stroke-width="0.8"/>
<path d="M151.1,266.69 L153.4,270.72 L148.8,270.72 Z" fill="#2fe02f" stroke="#25b825" stroke-width="0.8"/>
<path d="M152.3,265.09 L154.6,269.12 L150,269.12 Z" fill="#3fe43f" stroke="#30bf30" stroke-width="0.8"/>
<path d="M153.5,267.29 L155.8,271.32 L151.2,271.32 Z" fill="#2fe02f" stroke="#25b825" stroke-width="0.8"/>
<path d="M154.7,265.74 L157,269.77 L152.4,269.77 Z" fill="#3fe43f" stroke="#30bf30" stroke-width="0.8"/>
<path d="M155.9,267.94 L158.2,271.97 L153.6,271.97 Z" fill="#2fe02f" stroke="#25b825" stroke-width="0.8"/>
<path d="M157.1,266.44 L159.4,270.46 L154.8,270.46 Z" fill="#3fe43f" stroke="#30bf30" stroke-width="0.8"/>
<path d="M158.3,268.64 L160.6,272.66 L156,272.66 Z" fill="#2fe02f" stroke="#25b825" stroke-width="0.8"/>
<path d="M159.5,267.18 L161.8,271.21 L157.2,271.21 Z" fill="#3fe43f" stroke="#30bf30" stroke-width="0.8"/>
<path d="M160.7,269.38 L163,273.41 L158.4,273.41 Z" fill="#2fe02f" stroke="#25b825" stroke-width="0.8"/>
<path d="M161.9,267.97 L164.2,271.99 L159.6,271.99 Z" fill="#3fe43f" stroke="#30bf30" stroke-width="0.8"/>
<path d="M163.1,270.17 L165.4,274.19 L160.8,274.19 Z" fill="#2fe02f" stroke="#25b825" stroke-width="0.8"/>
<path d="M164.3,268.8 L166.6,272.82 L162,272.82 Z" fill="#3fe43f" stroke="#30bf30" stroke-width="0.8"/>
<path d="M165.5,271 L167.8,275.02 L163.2,275.02 Z" fill="#2fe02f" stroke="#25b825" stroke-width="0.8"/>
<path d="M166.7,269.67 L169,273.69 L164.4,273.69 Z" fill="#3fe43f" stroke="#30bf30" stroke-width="0.8"/>
<path d="M167.9,271.87 L170.2,275.89 L165.6,275.89 Z" fill="#2fe02f" stroke="#25b825" stroke-width="0.8"/>
<path d="M169.1,270.58 L171.4,274.6 L166.8,274.6 Z" fill="#3fe43f" stroke="#30bf30" stroke-width="0.8"/>
<path d="M170.3,272.78 L172.6,276.8 L168,276.8 Z" fill="#2fe02f" stroke="#25b825" stroke-width="0.8"/>
<path d="M171.5,271.52 L173.8,275.55 L169.2,275.55 Z" fill="#3fe43f" stroke="#30bf30" stroke-width="0.8"/>
<path d="M172.7,273.72 L175,277.75 L170.4,277.75 Z" fill="#2fe02f" stroke="#25b825" stroke-width="0.8"/>
<path d="M173.9,272.51 L176.2,276.53 L171.6,276.53 Z" fill="#3fe43f" stroke="#30bf30" stroke-width="0.8"/>
<path d="M175.1,274.71 L177.4,278.73 L172.8,278.73 Z" fill="#2fe02f" stroke="#25b825" stroke-width="0.8"/>
<path d="M176.3,273.52 L178.6,277.54 L174,277.54 Z" fill="#3fe43f" stroke="#30bf30" stroke-width="0.8"/>
<path d="M177.5,275.72 L179.8,279.74 L175.2,279.74 Z" fill="#2fe02f" stroke="#25b825" stroke-width="0.8"/>
<path d="M178.7,274.57 L181,278.59 L176.4,278.59 Z" fill="#3fe43f" stroke="#30bf30" stroke-width="0.8"/>
<path d="M179.9,276.77 L182.2,280.79 L177.6,280.79 Z" fill="#2fe02f" stroke="#25b825" stroke-width="0.8"/>
<path d="M181.1,275.64 L183.4,279.67 L178.8,279.67 Z" fill="#3fe43f" stroke="#30bf30" stroke-width="0.8"/>
<path d="M182.3,277.84 L184.6,281.87 L180,281.87 Z" fill="#2fe02f" stroke="#25b825" stroke-width="0.8"/>
<path d="M183.5,276.75 L185.8,280.77 L181.2,280.77 Z" fill="#3fe43f" stroke="#30bf30" stroke-width="0.8"/>
<path d="M184.7,278.95 L187,282.97 L182.4,282.97 Z" fill="#2fe02f" stroke="#25b825" stroke-width="0.8"/>
<path d="M185.9,277.88 L188.2,281.9 L183.6,281.9 Z" fill="#3fe43f" stroke="#30bf30" stroke-width="0.8"/>
<path d="M187.1,280.08 L189.4,284.1 L184.8,284.1 Z" fill="#2fe02f" stroke="#25b825" stroke-width="0.8"/>
<path d="M188.3,279.04 L190.6,283.06 L186,283.06 Z" fill="#3fe43f" stroke="#30bf30" stroke-width="0.8"/>
<path d="M189.5,281.24 L191.8,285.26 L187.2,285.26 Z" fill="#2fe02f" stroke="#25b825" stroke-width="0.8"/>
<path d="M190.7,280.22 L193,284.25 L188.4,284.25 Z" fill="#3fe43f" stroke="#30bf30" stroke-width="0.8"/>
<path d="M191.9,282.42 L194.2,286.45 L189.6,286.45 Z" fill="#2fe02f" stroke="#25b825" stroke-width="0.8"/>
<path d="M193.1,281.43 L195.4,285.45 L190.8,285.45 Z" fill="#3fe43f" stroke="#30bf30" stroke-width="0.8"/>
<path d="M194.3,283.63 L196.6,287.65 L192,287.65 Z" fill="#2fe02f" stroke="#25b825" stroke-width="0.8"/>
<path d="M195.5,282.66 L197.8,286.68 L193.2,286.68 Z" fill="#3fe43f" stroke="#30bf30" stroke-width="0.8"/>
<path d="M196.7,284.86 L199,288.88 L194.4,288.88 Z" fill="#2fe02f" stroke="#25b825" stroke-width="0.8"/>
<path d="M197.9,283.91 L200.2,287.93 L195.6,287.93 Z" fill="#8fe67f" stroke="#30bf30" stroke-width="0.8"/>
<path d="M202.7,286.47 L205,290.5 L200.4,290.5 Z" fill="#8fe67f" stroke="#30bf30" stroke-width="0.8"/>
<path d="M207.5,289.11 L209.8,293.14 L205.2,293.14 Z" fill="#8fe67f" stroke="#30bf30" stroke-width="0.8"/>
<path d="M212.3,291.82 L214.6,295.84 L210,295.84 Z" fill="#8fe67f" stroke="#30bf30" stroke-width="0.8"/>
<path d="M217.1,294.59 L219.4,298.61 L214.8,298.61 Z" fill="#8fe67f" stroke="#30bf30" stroke-width="0.8"/>
<path d="M221.9,297.41 L224.2,301.44 L219.6,301.44 Z" fill="#8fe67f" stroke="#30bf30" stroke-width="0.8"/>
<path d="M226.7,300.3 L229,304.32 L224.4,304.32 Z" fill="#8fe67f" stroke="#30bf30" stroke-width="0.8"/>
<path d="M231.5,303.23 L233.8,307.25 L229.2,307.25 Z" fill="#8fe67f" stroke="#30bf30" stroke-width="0.8"/>
<path d="M236.3,306.21 L238.6,310.23 L234,310.23 Z" fill="#8fe67f" stroke="#30bf30" stroke-width="0.8"/>
<path d="M241.1,309.23 L243.4,313.26 L238.8,313.26 Z" fill="#8fe67f" stroke="#30bf30" stroke-width="0.8"/>
<path d="M245.9,312.3 L248.2,316.33 L243.6,316.33 Z" fill="#8fe67f" stroke="#30bf30" stroke-width="0.8"/>
<path d="M250.7,315.41 L253,319.44 L248.4,319.44 Z" fill="#8fe67f" stroke="#30bf30" stroke-width="0.8"/>
<path d="M255.5,318.56 L257.8,322.59 L253.2,322.59 Z" fill="#8fe67f" stroke="#30bf30" stroke-width="0.8"/>
<path d="M260.3,321.76 L262.6,325.78 L258,325.78 Z" fill="#8fe67f" stroke="#30bf30" stroke-width="0.8"/>
<path d="M265.1,324.99 L267.4,329.02 L262.8,329.02 Z" fill="#8fe67f" stroke="#30bf30" stroke-width="0.8"/>
<path d="M269.9,328.27 L272.2,332.3 L267.6,332.3 Z" fill="#8fe67f" stroke="#30bf30" stroke-width="0.8"/>
<path d="M274.7,331.59 L277,335.62 L272.4,335.62 Z" fill="#8fe67f" stroke="#30bf30" stroke-width="0.8"/>
<path d="M279.5,334.96 L281.8,338.98 L277.2,338.98 Z" fill="#8fe67f" stroke="#30bf30" stroke-width="0.8"/>
<path d="M284.3,338.37 L286.6,342.39 L282,342.39 Z" fill="#8fe67f" stroke="#30bf30" stroke-width="0.8"/>
<path d="M289.1,341.82 L291.4,345.85 L286.8,345.85 Z" fill="#8fe67f" stroke="#30bf30" stroke-width="0.8"/>
<path d="M293.9,345.32 L296.2,349.35 L291.6,349.35 Z" fill="#8fe67f" stroke="#30bf30" stroke-width="0.8"/>
<path d="M298.7,348.87 L301,352.9 L296.4,352.9 Z" fill="#8fe67f" stroke="#30bf30" stroke-width="0.8"/>
<path d="M303.5,352.47 L305.8,356.5 L301.2,356.5 Z" fill="#8fe67f" stroke="#30bf30" stroke-width="0.8"/>
<path d="M308.3,356.13 L310.6,360.15 L306,360.15 Z" fill="#8fe67f" stroke="#30bf30" stroke-width="0.8"/>
<path d="M313.1,359.83 L315.4,363.85 L310.8,363.85 Z" fill="#8fe67f" stroke="#30bf30" stroke-width="0.8"/>
<path d="M317.9,363.59 L320.2,367.61 L315.6,367.61 Z" fill="#8fe67f" stroke="#30bf30" stroke-width="0.8"/>
<path d="M322.7,367.4 L325,371.42 L320.4,371.42 Z" fill="#8fe67f" stroke="#30bf30" stroke-width="0.8"/>
<path d="M327.5,371.27 L329.8,375.29 L325.2,375.29 Z" fill="#8fe67f" stroke="#30bf30" stroke-width="0.8"/>
<path d="M332.3,375.19 L334.6,379.21 L330,379.21 Z" fill="#8fe67f" stroke="#30bf30" stroke-width="0.8"/>
<path d="M337.1,379.16 L339.4,383.19 L334.8,383.19 Z" fill="#8fe67f" stroke="#30bf30" stroke-width="0.8"/>
<path d="M341.9,383.2 L344.2,387.22 L339.6,387.22 Z" fill="#8fe67f" stroke="#30bf30" stroke-width="0.8"/>
<path d="M346.7,387.29 L349,391.31 L344.4,391.31 Z" fill="#8fe67f" stroke="#30bf30" stroke-width="0.8"/>
<path d="M351.5,391.43 L353.8,395.45 L349.2,395.45 Z" fill="#8fe67f" stroke="#30bf30" stroke-width="0.8"/>
<path d="M356.3,395.62 L358.6,399.65 L354,399.65 Z" fill="#8fe67f" stroke="#30bf30" stroke-width="0.8"/>
<path d="M361.1,399.86 L363.4,403.89 L358.8,403.89 Z" fill="#8fe67f" stroke="#30bf30" stroke-width="0.8"/>
<path d="M365.9,404.15 L368.2,408.18 L363.6,408.18 Z" fill="#8fe67f" stroke="#30bf30" stroke-width="0.8"/>
<path d="M370.7,408.49 L373,412.51 L368.4,412.51 Z" fill="#8fe67f" stroke="#30bf30" stroke-width="0.8"/>
<path d="M375.5,412.86 L377.8,416.89 L373.2,416.89 Z" fill="#8fe67f" stroke="#30bf30" stroke-width="0.8"/>
<path d="M380.3,417.27 L382.6,421.3 L378,421.3 Z" fill="#8fe67f" stroke="#30bf30" stroke-width="0.8"/>
<path d="M385.1,421.71 L387.4,425.73 L382.8,425.73 Z" fill="#8fe67f" stroke="#30bf30" stroke-width="0.8"/>
<path d="M389.9,426.17 L392.2,430.19 L387.6,430.19 Z" fill="#8fe67f" stroke="#30bf30" stroke-width="0.8"/>
<path d="M394.7,430.65 L397,434.67 L392.4,434.67 Z" fill="#8fe67f" stroke="#30bf30" stroke-width="0.8"/>
<path d="M399.5,435.13 L401.8,439.16 L397.2,439.16 Z" fill="#8fe67f" stroke="#30bf30" stroke-width="0.8"/>
<path d="M404.3,439.61 L406.6,443.64 L402,443.64 Z" fill="#8fe67f" stroke="#30bf30" stroke-width="0.8"/>
<path d="M409.1,444.09 L411.4,448.11 L406.8,448.11 Z" fill="#8fe67f" stroke="#30bf30" stroke-width="0.8"/>
<path d="M413.9,448.53 L416.2,452.56 L411.6,452.56 Z" fill="#8fe67f" stroke="#30bf30" stroke-width="0.8"/>
<path d="M418.7,452.95 L421,456.97 L416.4,456.97 Z" fill="#8fe67f" stroke="#30bf30" stroke-width="0.8"/>
<path d="M423.5,457.32 L425.8,461.34 L421.2,461.34 Z" fill="#8fe67f" stroke="#30bf30" stroke-width="0.8"/>
<path d="M428.3,461.62 L430.6,465.65 L426,465.65 Z" fill="#8fe67f" stroke="#30bf30" stroke-width="0.8"/>
<path d="M433.1,465.85 L435.4,469.87 L430.8,469.87 Z" fill="#8fe67f" stroke="#30bf30" stroke-width="0.8"/>
<polyline points="112.8,247.46 114.84,248.18 116.88,248.89 118.92,249.6 120.96,250.31 123,251.01 125.04,251.7 127.08,252.4 129.12,253.09 131.16,253.78 133.2,254.47 135.24,255.16 137.28,255.85 139.32,256.54 141.36,257.23 143.4,257.93 145.44,258.62 147.48,259.31 149.52,260.01 151.56,260.71 153.61,261.41 155.65,262.12 157.69,262.83 159.73,263.54 161.77,264.26 163.81,264.98 165.85,265.71 167.89,266.44 169.93,267.18 171.97,267.92 174.01,268.67 176.05,269.43 178.09,270.19 180.13,270.96 182.17,271.74 184.21,272.53 186.25,273.32 188.29,274.13 190.33,274.94 192.37,275.76 194.41,276.58 196.45,277.42 198.49,278.27 200.53,279.12 202.57,279.99 204.61,280.87 206.65,281.75 208.69,282.65 210.73,283.56 212.77,284.48 214.81,285.4 216.85,286.34 218.89,287.3 220.93,288.26 222.97,289.23 225.01,290.22 227.05,291.21 229.09,292.22 231.13,293.24 233.17,294.28 235.22,295.32 237.26,296.38 239.3,297.45 241.34,298.53 243.38,299.62 245.42,300.73 247.46,301.85 249.5,302.98 251.54,304.13 253.58,305.28 255.62,306.45 257.66,307.64 259.7,308.83 261.74,310.04 263.78,311.26 265.82,312.49 267.86,313.74 269.9,315 271.94,316.27 273.98,317.56 276.02,318.85 278.06,320.16 280.1,321.48 282.14,322.82 284.18,324.16 286.22,325.52 288.26,326.89 290.3,328.28 292.34,329.67 294.38,331.08 296.42,332.5 298.46,333.93 300.5,335.37 302.54,336.82 304.58,338.29 306.62,339.76 308.66,341.25 310.7,342.74 312.74,344.25 314.78,345.77 316.83,347.3 318.87,348.84 320.91,350.38 322.95,351.94 324.99,353.51 327.03,355.09 329.07,356.67 331.11,358.26 333.15,359.87 335.19,361.48 337.23,363.1 339.27,364.72 341.31,366.36 343.35,368 345.39,369.65 347.43,371.3 349.47,372.96 351.51,374.63 353.55,376.31 355.59,377.98 357.63,379.67 359.67,381.36 361.71,383.05 363.75,384.75 365.79,386.45 367.83,388.15 369.87,389.86 371.91,391.57 373.95,393.28 375.99,395 378.03,396.71 380.07,398.43 382.11,400.15 384.15,401.87 386.19,403.58 388.23,405.3 390.27,407.02 392.31,408.73 394.35,410.45 396.39,412.16 398.44,413.86 400.48,415.57 402.52,417.27 404.56,418.97 406.6,420.66 408.64,422.35 410.68,424.03 412.72,425.7 414.76,427.37 416.8,429.03 418.84,430.69 420.88,432.33 422.92,433.97 424.96,435.6 427,437.22 429.04,438.82 431.08,440.42 433.12,442 435.16,443.57 437.2,445.13" fill="none" stroke="#dc1a1a" stroke-width="1.9" stroke-linejoin="round" stroke-linecap="butt" />
<rect x="322.6" y="253.1" width="53.2" height="14.4" fill="#fff" stroke="#8a8a8a" stroke-width="0.8"/>
<text x="325.2" y="264.5" font-size="9.5" text-anchor="start" fill="#222" textLength="48.2" lengthAdjust="spacingAndGlyphs">LDPE Melt I</text>
<circle cx="291.2" cy="276" r="3.2" fill="#a248f0" stroke="#6430b4" stroke-width="0.7"/>
<text x="301" y="278.5" font-size="9.5" fill="#333">Measured Ψ<tspan font-size="6.2" dy="2">1</tspan></text>
<path d="M362.3,273.6 L364.3,277.2 L360.3,277.2 Z" fill="#9be889" stroke="#3dc03d" stroke-width="0.7"/>
<text x="371.2" y="278.5" font-size="9.5" fill="#333" font-style="italic">l</text>
<text x="376.4" y="278.5" font-size="9.5" fill="#333">=</text>
<text x="388.0" y="278.5" font-size="9.5" fill="#333">0</text>
<line x1="287.5" y1="290.8" x2="289.5" y2="290.8" stroke="#aab" stroke-width="0.8" />
<rect x="289.5" y="289.1" width="3.4" height="3.4" fill="#2c2cb4"/>
<text x="300.1" y="293.4" font-size="9.5" fill="#333" font-style="italic">l</text>
<text x="305.9" y="293.4" font-size="9.5" fill="#333">=</text>
<text x="316.9" y="293.4" font-size="9.5" fill="#333">0.7</text>
<line x1="354.6" y1="290.5" x2="370.8" y2="290.5" stroke="#dc1c1c" stroke-width="1.8" />
<text x="371.2" y="293.0" font-size="9.5" fill="#333" font-style="italic">l</text>
<text x="376.4" y="293.0" font-size="9.5" fill="#999">=</text>
<text x="388.0" y="293.0" font-size="9.5" fill="#333">2.23</text>
<text x="0" y="0" font-size="10.6" fill="#333" transform="translate(91.5,356.8) rotate(-90)" text-anchor="middle">Ψ<tspan font-size="6.6" dy="2">1</tspan><tspan dy="-2" dx="2.6"> [Pa.</tspan><tspan font-style="italic">s</tspan><tspan font-size="6.6" dy="-3.8">2</tspan><tspan dy="3.8">]</tspan></text>
<text x="234.1" y="500.3" font-size="10" fill="#333" font-style="italic">γ</text>
<text x="242.3" y="500.3" font-size="10" fill="#333">[</text>
<text x="244.3" y="500.3" font-size="10" fill="#333">s</text>
<text x="248.6" y="496.4" font-size="6.8" fill="#333">−<tspan dx="1.2">1</tspan></text>
<text x="257.2" y="500.3" font-size="10" fill="#333">]</text>
<text x="262.4" y="500.3" font-size="10" fill="#333">or</text>
<text x="273.4" y="500.3" font-size="10" fill="#333" font-style="italic">ω</text>
<text x="282.3" y="500.3" font-size="10" fill="#333">[</text>
<text x="284.6" y="500.3" font-size="10" fill="#333" style="letter-spacing:0.25px">rad.s</text>
<text x="306.0" y="496.4" font-size="6.8" fill="#333">−<tspan dx="1.2">1</tspan></text>
<text x="315.6" y="500.3" font-size="10" fill="#333">]</text>
<circle cx="236.5" cy="494.2" r="0.65" fill="#333"/>
<text x="78.4" y="224.4" font-size="9" fill="#222">(c)</text>
<rect x="151.0" y="338.8" width="110.4" height="105.5" fill="#fff" stroke="none"/>
<rect x="157.72" y="343.64" width="18.4" height="100.66" fill="#08f508"/>
<rect x="179.74" y="407.97" width="18.4" height="36.33" fill="#0505f2"/>
<rect x="227.86" y="423.43" width="18.4" height="20.87" fill="#f50808"/>
<rect x="151" y="338.8" width="110.4" height="105.5" fill="none" stroke="#666" stroke-width="0.9"/>
<line x1="151.2" y1="444.3" x2="151.2" y2="442.8" stroke="#555" stroke-width="0.7" />
<line x1="151.2" y1="338.8" x2="151.2" y2="340.3" stroke="#555" stroke-width="0.7" />
<text x="151.2" y="455.2" font-size="8.4" text-anchor="middle" fill="#333" >-0.5</text>
<line x1="166.92" y1="444.3" x2="166.92" y2="442.8" stroke="#555" stroke-width="0.7" />
<line x1="166.92" y1="338.8" x2="166.92" y2="340.3" stroke="#555" stroke-width="0.7" />
<text x="166.92" y="455.2" font-size="8.4" text-anchor="middle" fill="#333" >0</text>
<line x1="188.94" y1="444.3" x2="188.94" y2="442.8" stroke="#555" stroke-width="0.7" />
<line x1="188.94" y1="338.8" x2="188.94" y2="340.3" stroke="#555" stroke-width="0.7" />
<text x="188.94" y="455.2" font-size="8.4" text-anchor="middle" fill="#333" >0.7</text>
<line x1="214.1" y1="444.3" x2="214.1" y2="442.8" stroke="#555" stroke-width="0.7" />
<line x1="214.1" y1="338.8" x2="214.1" y2="340.3" stroke="#555" stroke-width="0.7" />
<text x="214.1" y="455.2" font-size="8.4" text-anchor="middle" fill="#333" >1.5</text>
<line x1="237.06" y1="444.3" x2="237.06" y2="442.8" stroke="#555" stroke-width="0.7" />
<line x1="237.06" y1="338.8" x2="237.06" y2="340.3" stroke="#555" stroke-width="0.7" />
<text x="237.06" y="455.2" font-size="8.4" text-anchor="middle" fill="#333" >2.23</text>
<line x1="261.27" y1="444.3" x2="261.27" y2="442.8" stroke="#555" stroke-width="0.7" />
<line x1="261.27" y1="338.8" x2="261.27" y2="340.3" stroke="#555" stroke-width="0.7" />
<text x="261.27" y="455.2" font-size="8.4" text-anchor="middle" fill="#333" >3</text>
<line x1="151" y1="444.3" x2="152.5" y2="444.3" stroke="#555" stroke-width="0.7" />
<line x1="261.4" y1="444.3" x2="259.9" y2="444.3" stroke="#555" stroke-width="0.7" />
<text x="147.4" y="447.1" font-size="8.4" text-anchor="end" fill="#333" >0</text>
<line x1="151" y1="419.75" x2="152.5" y2="419.75" stroke="#555" stroke-width="0.7" />
<line x1="261.4" y1="419.75" x2="259.9" y2="419.75" stroke="#555" stroke-width="0.7" />
<text x="147.4" y="422.55" font-size="8.4" text-anchor="end" fill="#333" >1</text>
<line x1="151" y1="395.2" x2="152.5" y2="395.2" stroke="#555" stroke-width="0.7" />
<line x1="261.4" y1="395.2" x2="259.9" y2="395.2" stroke="#555" stroke-width="0.7" />
<text x="147.4" y="398" font-size="8.4" text-anchor="end" fill="#333" >2</text>
<line x1="151" y1="370.65" x2="152.5" y2="370.65" stroke="#555" stroke-width="0.7" />
<line x1="261.4" y1="370.65" x2="259.9" y2="370.65" stroke="#555" stroke-width="0.7" />
<text x="147.4" y="373.45" font-size="8.4" text-anchor="end" fill="#333" >3</text>
<line x1="151" y1="346.1" x2="152.5" y2="346.1" stroke="#555" stroke-width="0.7" />
<line x1="261.4" y1="346.1" x2="259.9" y2="346.1" stroke="#555" stroke-width="0.7" />
<text x="147.4" y="348.9" font-size="8.4" text-anchor="end" fill="#333" >4</text>
<text x="201.3" y="463.5" font-size="9.6" fill="#333" font-style="italic" text-anchor="middle">l</text>
<text x="0" y="0" font-size="10.6" fill="#333" transform="translate(138.6,389.9) rotate(-90)" text-anchor="middle">Error, <tspan font-style="italic">ℓ</tspan><tspan font-size="7" dy="1.8" font-style="italic">m</tspan></text>
</svg>
</body></html>
